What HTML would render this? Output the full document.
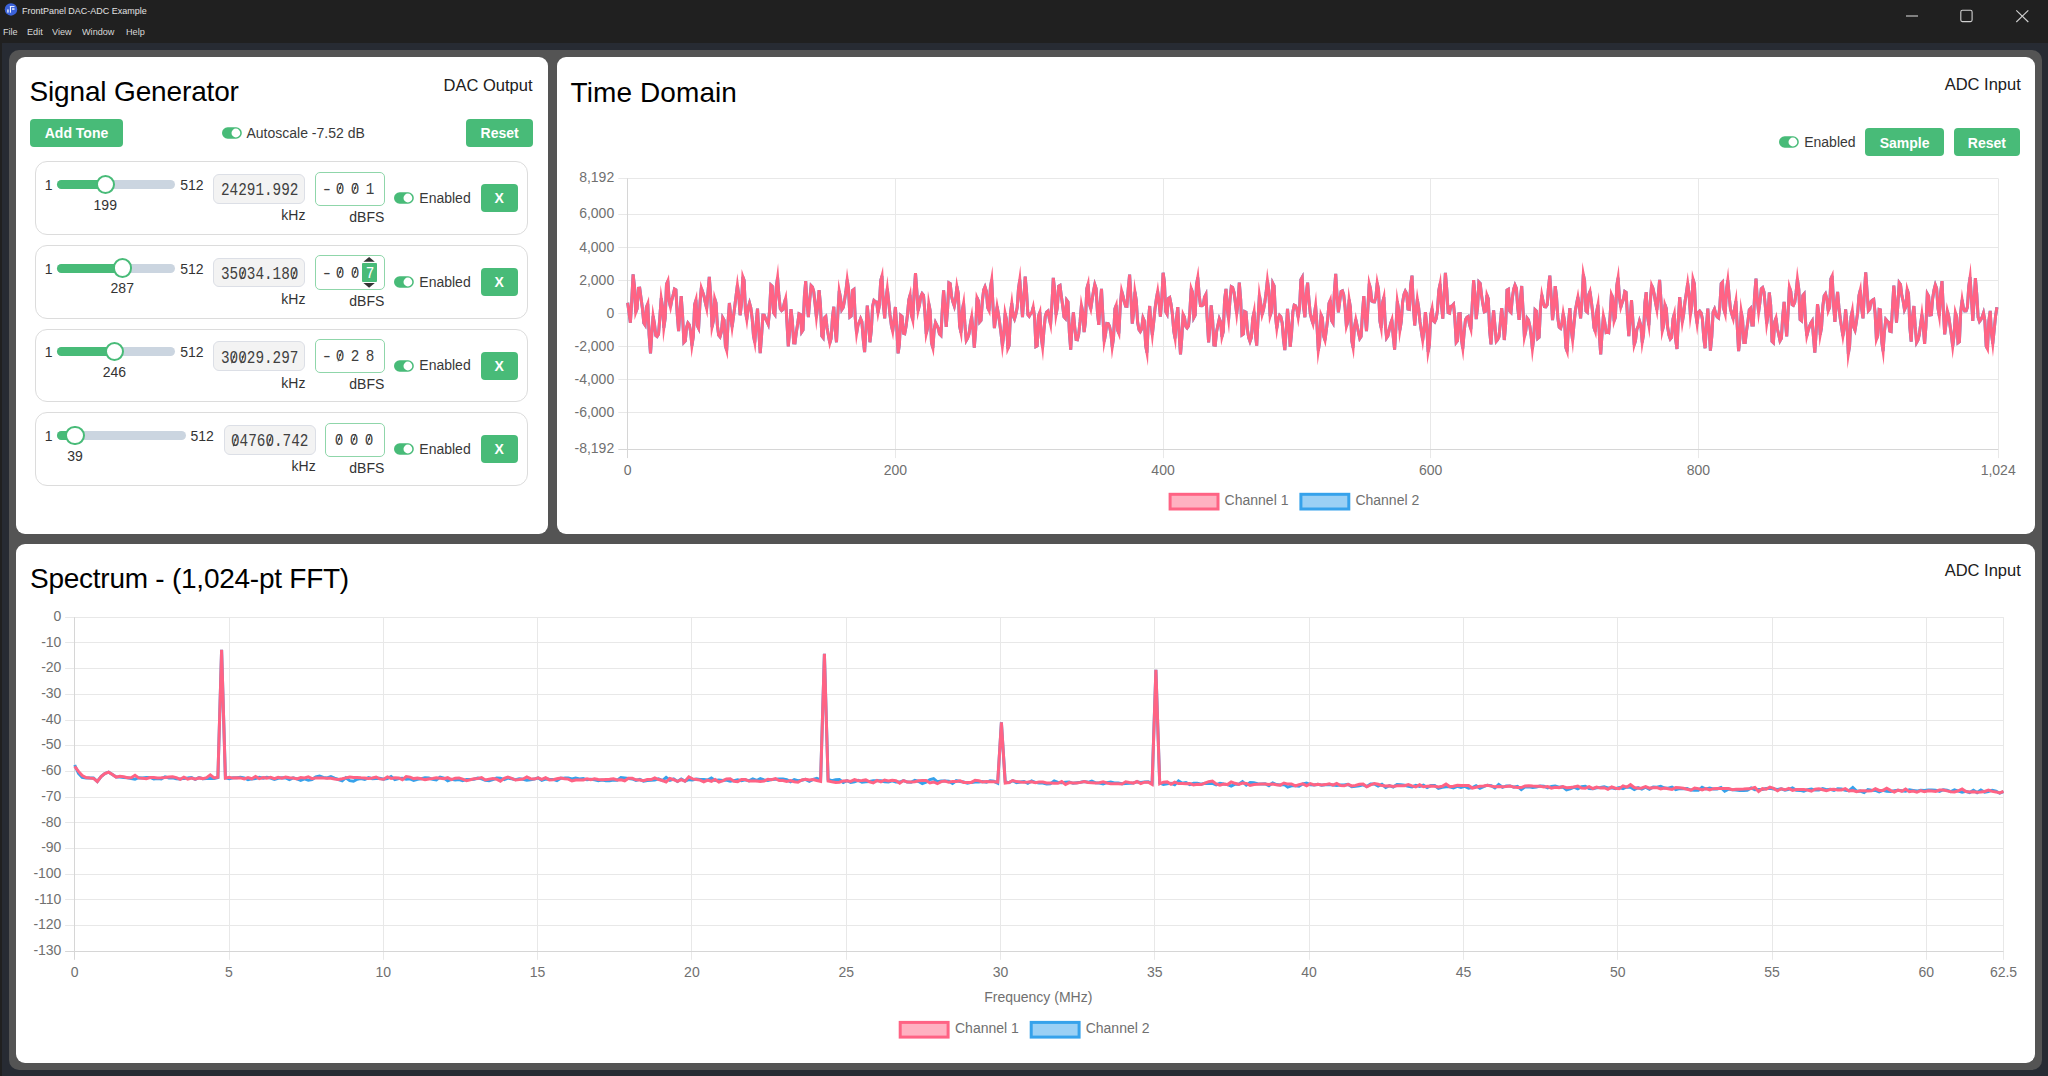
<!DOCTYPE html>
<html><head><meta charset="utf-8"><title>FrontPanel DAC-ADC Example</title>
<style>
html,body{margin:0;padding:0;}
.z{position:relative;display:inline-block}
.z::after{content:'';position:absolute;left:50%;top:50%;width:1.2px;height:10.5px;background:currentColor;transform:translate(-50%,-58%) rotate(24deg)}
body{width:2048px;height:1076px;overflow:hidden;position:relative;background:#272b33;font-family:'Liberation Sans', sans-serif;}
</style></head><body>
<div style="position:absolute;left:0px;top:0px;width:2048px;height:43px;background:#202020"></div>
<div style="position:absolute;left:0px;top:43px;width:2px;height:1033px;background:#202020"></div>
<svg style="position:absolute;left:4px;top:3px" width="14" height="14" viewBox="0 0 14 14"><circle cx="7" cy="6.4" r="6.25" fill="#3b62d9"/><rect x="5.9" y="3.05" width="1.1" height="6.65" fill="#eef1ff"/><rect x="5.9" y="3.05" width="4.6" height="1.0" fill="#eef1ff"/><rect x="8.1" y="5.1" width="2.4" height="1.9" fill="#c9d5f5"/><rect x="3.05" y="6.2" width="1.75" height="3.5" rx="0.6" fill="#c9d5f5"/></svg>
<div style="position:absolute;left:21.50px;top:6.07px;font:400 9.6px/9.6px 'Liberation Sans', sans-serif;color:#e2e2e2;white-space:pre;transform:scaleX(0.935);transform-origin:0 0">FrontPanel DAC-ADC Example</div>
<div style="position:absolute;left:3.30px;top:27.47px;font:400 9.6px/9.6px 'Liberation Sans', sans-serif;color:#d8d8d8;white-space:pre;transform:scaleX(0.95);transform-origin:0 0">File</div>
<div style="position:absolute;left:26.80px;top:27.47px;font:400 9.6px/9.6px 'Liberation Sans', sans-serif;color:#d8d8d8;white-space:pre;transform:scaleX(0.95);transform-origin:0 0">Edit</div>
<div style="position:absolute;left:52.30px;top:27.47px;font:400 9.6px/9.6px 'Liberation Sans', sans-serif;color:#d8d8d8;white-space:pre;transform:scaleX(0.95);transform-origin:0 0">View</div>
<div style="position:absolute;left:82.20px;top:27.47px;font:400 9.6px/9.6px 'Liberation Sans', sans-serif;color:#d8d8d8;white-space:pre;transform:scaleX(0.95);transform-origin:0 0">Window</div>
<div style="position:absolute;left:126.40px;top:27.47px;font:400 9.6px/9.6px 'Liberation Sans', sans-serif;color:#d8d8d8;white-space:pre;transform:scaleX(0.95);transform-origin:0 0">Help</div>
<svg style="position:absolute;left:1900px;top:4px" width="140" height="26" viewBox="0 0 140 26"><line x1="6" y1="12" x2="18" y2="12" stroke="#d0d0d0" stroke-width="1.1"/><rect x="60.8" y="6.3" width="11.3" height="11.3" rx="1.6" fill="none" stroke="#d0d0d0" stroke-width="1.1"/><line x1="116.3" y1="6.3" x2="128.3" y2="18" stroke="#d0d0d0" stroke-width="1.1"/><line x1="128.3" y1="6.3" x2="116.3" y2="18" stroke="#d0d0d0" stroke-width="1.1"/></svg>
<div style="position:absolute;left:9px;top:50px;width:2033px;height:1020px;background:#545454;border-radius:10px"></div>
<div style="position:absolute;left:16px;top:57px;width:531.5px;height:477.3px;background:#fff;border-radius:9px"></div>
<div style="position:absolute;left:556.5px;top:57px;width:1478.2px;height:477.3px;background:#fff;border-radius:9px"></div>
<div style="position:absolute;left:16px;top:544px;width:2018.7px;height:518.6px;background:#fff;border-radius:9px"></div>
<svg style="position:absolute;left:0;top:0" width="2048" height="1076" viewBox="0 0 2048 1076">
<line x1="618.3" y1="178.5" x2="1998.2" y2="178.5" stroke="#e8e8e8"/>
<line x1="618.3" y1="214.5" x2="1998.2" y2="214.5" stroke="#e8e8e8"/>
<line x1="618.3" y1="247.5" x2="1998.2" y2="247.5" stroke="#e8e8e8"/>
<line x1="618.3" y1="280.5" x2="1998.2" y2="280.5" stroke="#e8e8e8"/>
<line x1="618.3" y1="313.5" x2="1998.2" y2="313.5" stroke="#e8e8e8"/>
<line x1="618.3" y1="346.5" x2="1998.2" y2="346.5" stroke="#e8e8e8"/>
<line x1="618.3" y1="379.5" x2="1998.2" y2="379.5" stroke="#e8e8e8"/>
<line x1="618.3" y1="412.5" x2="1998.2" y2="412.5" stroke="#e8e8e8"/>
<line x1="895.5" y1="178.4" x2="895.5" y2="458.1" stroke="#e8e8e8"/>
<line x1="1163.5" y1="178.4" x2="1163.5" y2="458.1" stroke="#e8e8e8"/>
<line x1="1430.5" y1="178.4" x2="1430.5" y2="458.1" stroke="#e8e8e8"/>
<line x1="1698.5" y1="178.4" x2="1698.5" y2="458.1" stroke="#e8e8e8"/>
<line x1="1998.5" y1="178.4" x2="1998.5" y2="458.1" stroke="#e8e8e8"/>
<line x1="618.3" y1="449.5" x2="1998.2" y2="449.5" stroke="#d6d6d6"/>
<line x1="627.5" y1="178.4" x2="627.5" y2="458.1" stroke="#d6d6d6"/>
<polyline points="627.7,302.7 629.0,312.6 630.4,322.7 631.7,301.4 633.1,274.4 634.4,285.8 635.7,312.6 637.1,308.8 638.4,288.3 639.7,288.1 641.1,298.7 642.4,308.2 643.8,322.9 645.1,324.9 646.4,307.4 647.8,303.7 649.1,334.7 650.5,353.3 651.8,333.8 653.1,315.9 654.5,324.1 655.8,335.4 657.1,336.5 658.5,334.3 659.8,318.2 661.2,298.2 662.5,306.6 663.8,327.9 665.2,318.1 666.5,284.4 667.9,280.9 669.2,301.4 670.5,307.1 671.9,299.5 673.2,295.0 674.5,289.1 675.9,289.9 677.2,313.6 678.6,331.2 679.9,312.5 681.2,296.1 682.6,315.9 683.9,342.4 685.3,340.9 686.6,327.2 687.9,323.0 689.3,324.8 690.6,331.6 691.9,345.7 693.3,336.7 694.6,304.8 696.0,299.9 697.3,325.6 698.6,328.2 700.0,302.7 701.3,288.0 702.6,291.9 704.0,296.2 705.3,302.5 706.7,308.5 708.0,292.1 709.3,276.8 710.7,296.5 712.0,327.1 713.4,320.8 714.7,298.6 716.0,303.0 717.4,325.7 718.7,335.1 720.0,336.7 721.4,331.7 722.7,317.7 724.1,320.2 725.4,345.8 726.7,350.4 728.1,321.2 729.4,303.0 730.8,316.5 732.1,327.0 733.4,317.4 734.8,306.1 736.1,295.8 737.4,285.1 738.8,295.6 740.1,315.2 741.5,304.2 742.8,276.7 744.1,280.3 745.5,311.4 746.8,319.5 748.2,307.5 749.5,303.0 750.8,307.9 752.2,318.7 753.5,335.9 754.8,342.5 756.2,323.2 757.5,308.7 758.9,332.6 760.2,353.1 761.5,336.6 762.9,315.1 764.2,315.2 765.6,318.9 766.9,321.3 768.2,324.2 769.6,310.6 770.9,284.9 772.2,286.1 773.6,312.8 774.9,314.6 776.3,286.8 777.6,277.5 778.9,295.5 780.3,308.7 781.6,310.5 783.0,309.4 784.3,303.0 785.6,298.4 787.0,323.1 788.3,346.3 789.6,331.9 791.0,309.1 792.3,320.1 793.7,342.9 795.0,343.0 796.3,332.3 797.7,323.8 799.0,313.7 800.4,314.4 801.7,332.0 803.0,330.0 804.4,296.0 805.7,281.1 807.0,303.1 808.4,317.2 809.7,300.3 811.1,285.6 812.4,287.0 813.7,291.5 815.1,304.2 816.4,317.2 817.7,306.3 819.1,290.1 820.4,304.2 821.8,335.9 823.1,337.6 824.4,317.9 825.8,316.5 827.1,328.0 828.5,336.0 829.8,343.1 831.1,338.5 832.5,317.1 833.8,306.8 835.1,329.2 836.5,342.3 837.8,315.1 839.2,290.9 840.5,297.7 841.8,309.7 843.2,307.5 844.5,300.7 845.9,291.3 847.2,279.6 848.5,288.7 849.9,317.0 851.2,316.0 852.5,290.5 853.9,289.4 855.2,317.1 856.6,333.4 857.9,325.5 859.2,322.5 860.6,318.7 861.9,321.9 863.3,340.1 864.6,352.1 865.9,330.2 867.3,305.7 868.6,320.0 869.9,342.2 871.3,330.5 872.6,306.3 874.0,300.5 875.3,301.6 876.6,301.9 878.0,312.8 879.3,305.9 880.7,280.7 882.0,275.9 883.3,304.5 884.7,318.4 886.0,298.8 887.3,288.6 888.7,301.6 890.0,314.9 891.4,325.4 892.7,331.3 894.0,320.8 895.4,307.0 896.7,326.2 898.1,353.4 899.4,344.4 900.7,315.3 902.1,316.5 903.4,333.1 904.7,333.6 906.1,325.9 907.4,315.4 908.8,299.9 910.1,294.9 911.4,314.8 912.8,320.2 914.1,293.1 915.5,273.1 916.8,290.7 918.1,310.7 919.5,304.8 920.8,296.5 922.1,293.6 923.5,295.4 924.8,311.0 926.2,333.8 927.5,328.2 928.8,303.5 930.2,311.0 931.5,342.8 932.9,348.0 934.2,329.4 935.5,322.6 936.9,325.4 938.2,328.3 939.5,333.9 940.9,335.3 942.2,311.6 943.6,290.4 944.9,306.4 946.2,326.8 947.6,308.6 948.9,282.8 950.2,283.6 951.6,296.5 952.9,301.9 954.3,306.1 955.6,299.3 956.9,286.3 958.3,293.6 959.6,326.1 961.0,332.7 962.3,310.4 963.6,303.3 965.0,326.0 966.3,340.4 967.6,338.2 969.0,333.9 970.3,324.2 971.7,316.6 973.0,330.3 974.3,347.7 975.7,329.5 977.0,297.7 978.4,300.8 979.7,321.9 981.0,320.3 982.4,300.5 983.7,290.0 985.0,286.9 986.4,291.5 987.7,307.7 989.1,310.7 990.4,287.6 991.7,279.8 993.1,308.0 994.4,328.1 995.8,317.3 997.1,306.6 998.4,314.0 999.8,323.9 1001.1,333.8 1002.4,345.8 1003.8,334.5 1005.1,313.2 1006.5,319.6 1007.8,348.7 1009.1,345.7 1010.5,312.9 1011.8,303.2 1013.2,315.8 1014.5,318.9 1015.8,314.4 1017.2,307.5 1018.5,288.6 1019.8,279.6 1021.2,300.4 1022.5,317.2 1023.9,296.8 1025.2,276.7 1026.5,291.1 1027.9,314.6 1029.2,316.2 1030.6,313.6 1031.9,312.3 1033.2,307.1 1034.6,317.3 1035.9,346.6 1037.2,345.9 1038.6,315.8 1039.9,312.1 1041.3,337.8 1042.6,347.3 1043.9,330.6 1045.3,316.3 1046.6,312.1 1048.0,311.0 1049.3,318.5 1050.6,324.4 1052.0,302.5 1053.3,277.8 1054.6,289.6 1056.0,314.7 1057.3,307.7 1058.7,286.1 1060.0,285.4 1061.3,296.0 1062.7,305.8 1064.0,316.9 1065.3,318.4 1066.7,300.1 1068.0,301.9 1069.4,333.0 1070.7,349.7 1072.0,327.0 1073.4,312.5 1074.7,326.9 1076.1,339.5 1077.4,339.7 1078.7,334.0 1080.1,321.4 1081.4,305.3 1082.7,312.0 1084.1,332.1 1085.4,322.1 1086.8,288.8 1088.1,284.0 1089.4,303.7 1090.8,308.9 1092.1,299.9 1093.5,291.3 1094.8,284.7 1096.1,288.6 1097.5,312.8 1098.8,324.8 1100.1,304.1 1101.5,288.9 1102.8,314.5 1104.2,341.4 1105.5,334.6 1106.8,323.4 1108.2,323.6 1109.5,326.2 1110.9,333.2 1112.2,347.0 1113.5,338.1 1114.9,308.7 1116.2,305.2 1117.5,330.0 1118.9,333.5 1120.2,307.1 1121.6,290.8 1122.9,295.6 1124.2,301.1 1125.6,306.1 1126.9,306.3 1128.3,288.3 1129.6,274.6 1130.9,296.9 1132.3,323.6 1133.6,312.6 1134.9,291.8 1136.3,300.6 1137.6,322.1 1139.0,329.6 1140.3,331.5 1141.6,329.0 1143.0,317.9 1144.3,320.9 1145.7,345.7 1147.0,352.7 1148.3,322.2 1149.7,306.0 1151.0,323.7 1152.3,334.8 1153.7,322.0 1155.0,308.9 1156.4,298.8 1157.7,291.4 1159.0,301.7 1160.4,316.7 1161.7,301.1 1163.1,272.8 1164.4,281.9 1165.7,311.5 1167.1,314.1 1168.4,298.6 1169.7,297.6 1171.1,304.6 1172.4,314.3 1173.8,331.4 1175.1,338.4 1176.4,319.0 1177.8,307.1 1179.1,333.3 1180.5,354.5 1181.8,337.9 1183.1,314.4 1184.5,317.4 1185.8,326.3 1187.1,328.0 1188.5,325.9 1189.8,312.6 1191.2,288.6 1192.5,292.3 1193.8,317.8 1195.2,315.2 1196.5,284.7 1197.8,277.4 1199.2,295.4 1200.5,305.6 1201.9,305.7 1203.2,304.9 1204.5,297.2 1205.9,294.4 1207.2,319.0 1208.6,342.5 1209.9,326.6 1211.2,305.3 1212.6,319.5 1213.9,345.0 1215.2,345.2 1216.6,331.5 1217.9,325.2 1219.3,318.7 1220.6,321.8 1221.9,336.9 1223.3,331.6 1224.6,299.6 1226.0,288.9 1227.3,309.4 1228.6,319.3 1230.0,299.7 1231.3,286.7 1232.6,287.5 1234.0,292.2 1235.3,302.0 1236.7,313.9 1238.0,302.7 1239.3,282.7 1240.7,299.8 1242.0,335.0 1243.4,334.0 1244.7,311.6 1246.0,312.2 1247.4,329.6 1248.7,337.6 1250.0,341.4 1251.4,337.4 1252.7,318.7 1254.1,311.7 1255.4,334.1 1256.7,345.7 1258.1,318.1 1259.4,295.2 1260.8,304.0 1262.1,314.7 1263.4,310.1 1264.8,302.5 1266.1,292.8 1267.4,280.2 1268.8,290.4 1270.1,316.1 1271.5,311.5 1272.8,283.3 1274.1,285.9 1275.5,315.9 1276.8,328.3 1278.2,318.9 1279.5,315.4 1280.8,316.8 1282.2,323.0 1283.5,339.9 1284.8,350.1 1286.2,330.2 1287.5,308.8 1288.9,325.0 1290.2,346.9 1291.5,334.1 1292.9,311.6 1294.2,305.2 1295.6,305.9 1296.9,309.3 1298.2,317.3 1299.6,307.2 1300.9,279.6 1302.2,277.3 1303.6,307.5 1304.9,317.2 1306.3,293.5 1307.6,282.7 1308.9,299.4 1310.3,313.7 1311.6,319.2 1313.0,323.7 1314.3,315.1 1315.6,305.6 1317.0,325.6 1318.3,350.7 1319.6,342.2 1321.0,314.7 1322.3,317.8 1323.7,336.3 1325.0,340.4 1326.3,330.1 1327.7,318.8 1329.0,303.4 1330.3,300.2 1331.7,320.7 1333.0,322.9 1334.4,291.7 1335.7,273.8 1337.0,294.9 1338.4,312.4 1339.7,301.5 1341.1,291.5 1342.4,290.9 1343.7,294.9 1345.1,307.7 1346.4,326.4 1347.7,322.0 1349.1,299.6 1350.4,307.5 1351.8,340.8 1353.1,347.6 1354.4,327.4 1355.8,319.6 1357.1,325.9 1358.5,332.5 1359.8,338.5 1361.1,336.6 1362.5,312.6 1363.8,296.0 1365.1,315.7 1366.5,331.1 1367.8,310.2 1369.2,283.6 1370.5,288.7 1371.8,301.1 1373.2,301.8 1374.5,301.9 1375.9,296.9 1377.2,282.9 1378.5,289.5 1379.9,321.1 1381.2,328.0 1382.5,302.8 1383.9,297.2 1385.2,323.1 1386.6,337.9 1387.9,335.9 1389.2,329.9 1390.6,323.6 1391.9,319.7 1393.3,337.2 1394.6,349.7 1395.9,328.7 1397.3,301.3 1398.6,309.3 1399.9,330.2 1401.3,321.4 1402.6,302.4 1404.0,294.3 1405.3,291.2 1406.6,293.5 1408.0,309.0 1409.3,309.3 1410.7,284.6 1412.0,275.6 1413.3,305.2 1414.7,325.5 1416.0,311.5 1417.3,299.3 1418.7,308.3 1420.0,321.9 1421.4,331.6 1422.7,340.3 1424.0,329.9 1425.4,312.2 1426.7,324.6 1428.1,351.9 1429.4,344.9 1430.7,315.0 1432.1,308.6 1433.4,320.8 1434.7,322.0 1436.1,318.8 1437.4,310.9 1438.8,290.4 1440.1,283.9 1441.4,304.3 1442.8,318.7 1444.1,295.1 1445.4,272.9 1446.8,289.5 1448.1,312.5 1449.5,313.1 1450.8,306.4 1452.1,306.0 1453.5,304.4 1454.8,317.4 1456.2,342.4 1457.5,340.7 1458.8,313.8 1460.2,313.6 1461.5,340.2 1462.8,348.6 1464.2,331.6 1465.5,319.7 1466.9,317.2 1468.2,316.4 1469.5,324.4 1470.9,329.2 1472.2,305.6 1473.6,280.1 1474.9,293.8 1476.2,319.2 1477.6,307.1 1478.9,282.0 1480.2,283.4 1481.6,295.8 1482.9,304.3 1484.3,311.8 1485.6,311.2 1486.9,295.1 1488.3,298.9 1489.6,330.3 1491.0,344.4 1492.3,324.3 1493.6,310.4 1495.0,326.4 1496.3,341.3 1497.6,339.8 1499.0,336.7 1500.3,323.1 1501.7,308.1 1503.0,320.4 1504.3,340.0 1505.7,323.3 1507.0,290.1 1508.4,289.3 1509.7,311.2 1511.0,312.5 1512.4,297.4 1513.7,289.1 1515.0,285.2 1516.4,288.3 1517.7,307.7 1519.1,319.8 1520.4,299.2 1521.7,286.0 1523.1,311.2 1524.4,337.0 1525.8,330.8 1527.1,318.2 1528.4,319.9 1529.8,325.9 1531.1,335.5 1532.4,348.9 1533.8,337.5 1535.1,309.8 1536.5,311.1 1537.8,338.5 1539.1,337.4 1540.5,307.4 1541.8,294.9 1543.2,301.9 1544.5,306.7 1545.8,306.9 1547.2,304.8 1548.5,287.2 1549.8,275.7 1551.2,296.2 1552.5,320.1 1553.9,308.4 1555.2,286.2 1556.5,296.5 1557.9,318.5 1559.2,327.2 1560.6,328.3 1561.9,323.4 1563.2,313.4 1564.6,321.2 1565.9,347.6 1567.2,351.4 1568.6,321.2 1569.9,308.2 1571.3,330.4 1572.6,340.2 1573.9,325.1 1575.3,310.9 1576.6,303.7 1577.9,297.0 1579.3,306.3 1580.6,318.4 1582.0,300.8 1583.3,274.4 1584.6,281.0 1586.0,311.1 1587.3,312.2 1588.7,294.8 1590.0,291.4 1591.3,301.1 1592.7,312.7 1594.0,327.8 1595.3,331.6 1596.7,311.8 1598.0,304.9 1599.4,335.5 1600.7,354.3 1602.0,334.3 1603.4,315.9 1604.7,322.0 1606.1,332.3 1607.4,331.8 1608.7,332.4 1610.1,316.3 1611.4,294.4 1612.7,297.6 1614.1,321.1 1615.4,317.2 1616.8,285.4 1618.1,277.7 1619.4,297.3 1620.8,307.2 1622.1,302.9 1623.5,299.1 1624.8,291.5 1626.1,292.4 1627.5,316.8 1628.8,336.1 1630.1,319.0 1631.5,300.2 1632.8,319.4 1634.2,345.0 1635.5,340.7 1636.8,329.5 1638.2,326.3 1639.5,321.1 1640.9,325.8 1642.2,342.4 1643.5,334.6 1644.9,302.7 1646.2,292.1 1647.5,316.6 1648.9,325.2 1650.2,303.1 1651.6,285.2 1652.9,288.3 1654.2,294.2 1655.6,302.9 1656.9,309.8 1658.3,294.9 1659.6,279.8 1660.9,299.2 1662.3,330.9 1663.6,325.6 1664.9,304.6 1666.3,308.5 1667.6,327.1 1669.0,335.2 1670.3,338.9 1671.6,337.3 1673.0,318.9 1674.3,314.0 1675.7,339.8 1677.0,349.0 1678.3,320.6 1679.7,297.2 1681.0,309.5 1682.3,322.2 1683.7,313.9 1685.0,301.7 1686.4,292.8 1687.7,283.3 1689.0,293.4 1690.4,315.1 1691.7,305.9 1693.0,279.2 1694.4,284.1 1695.7,313.0 1697.1,323.6 1698.4,312.5 1699.7,311.1 1701.1,312.9 1702.4,318.9 1703.8,338.4 1705.1,348.2 1706.4,326.6 1707.8,308.6 1709.1,328.9 1710.4,350.6 1711.8,336.4 1713.1,312.2 1714.5,309.1 1715.8,313.9 1717.1,316.7 1718.5,317.8 1719.8,306.6 1721.2,283.7 1722.5,282.2 1723.8,308.9 1725.2,313.9 1726.5,289.4 1727.8,280.3 1729.2,296.7 1730.5,309.2 1731.9,314.4 1733.2,318.7 1734.5,309.1 1735.9,301.2 1737.2,325.4 1738.6,351.1 1739.9,338.1 1741.2,311.4 1742.6,319.8 1743.9,342.5 1745.2,342.5 1746.6,330.3 1747.9,321.6 1749.3,310.0 1750.6,308.5 1751.9,324.9 1753.3,324.9 1754.6,295.3 1756.0,278.5 1757.3,299.7 1758.6,312.2 1760.0,301.6 1761.3,288.8 1762.6,287.7 1764.0,292.0 1765.3,305.8 1766.7,323.7 1768.0,315.2 1769.3,292.5 1770.7,305.3 1772.0,341.3 1773.4,342.7 1774.7,321.8 1776.0,318.0 1777.4,329.0 1778.7,334.5 1780.0,340.7 1781.4,338.2 1782.7,316.7 1784.1,301.8 1785.4,321.8 1786.7,336.4 1788.1,312.4 1789.4,287.1 1790.8,291.6 1792.1,304.5 1793.4,305.3 1794.8,302.2 1796.1,292.5 1797.4,279.0 1798.8,289.4 1800.1,319.6 1801.5,320.7 1802.8,295.6 1804.1,294.0 1805.5,321.2 1806.8,335.9 1808.2,330.3 1809.5,326.6 1810.8,323.1 1812.2,320.9 1813.5,337.4 1814.8,352.6 1816.2,331.3 1817.5,304.1 1818.9,314.1 1820.2,334.8 1821.5,327.7 1822.9,305.7 1824.2,295.9 1825.5,293.9 1826.9,299.2 1828.2,310.8 1829.6,307.1 1830.9,278.8 1832.2,275.9 1833.6,305.3 1834.9,321.8 1836.3,303.1 1837.6,291.9 1838.9,307.2 1840.3,318.7 1841.6,327.4 1842.9,336.1 1844.3,327.1 1845.6,309.4 1847.0,324.6 1848.3,354.0 1849.6,345.8 1851.0,317.3 1852.3,310.8 1853.7,327.2 1855.0,330.2 1856.3,322.3 1857.7,312.4 1859.0,295.6 1860.3,290.2 1861.7,309.0 1863.0,318.4 1864.4,292.7 1865.7,272.3 1867.0,290.5 1868.4,310.6 1869.7,309.0 1871.1,301.5 1872.4,300.1 1873.7,299.4 1875.1,312.8 1876.4,339.4 1877.7,335.7 1879.1,309.4 1880.4,309.8 1881.8,342.4 1883.1,351.2 1884.4,331.8 1885.8,319.4 1887.1,321.0 1888.5,322.3 1889.8,331.1 1891.1,331.5 1892.5,307.5 1893.8,285.7 1895.1,301.7 1896.5,322.6 1897.8,306.1 1899.2,282.7 1900.5,284.5 1901.8,295.4 1903.2,301.2 1904.5,309.7 1905.9,306.6 1907.2,289.5 1908.5,293.9 1909.9,327.9 1911.2,341.7 1912.5,316.3 1913.9,306.0 1915.2,326.4 1916.6,342.5 1917.9,340.2 1919.2,335.0 1920.6,324.6 1921.9,314.5 1923.3,326.8 1924.6,343.8 1925.9,326.6 1927.3,293.9 1928.6,296.2 1929.9,315.0 1931.3,314.7 1932.6,298.9 1934.0,290.1 1935.3,285.0 1936.6,288.4 1938.0,308.4 1939.3,316.0 1940.6,293.2 1942.0,281.1 1943.3,309.3 1944.7,334.3 1946.0,323.9 1947.3,310.7 1948.7,316.3 1950.0,325.4 1951.4,335.4 1952.7,346.5 1954.0,336.2 1955.4,312.6 1956.7,316.9 1958.0,342.9 1959.4,341.8 1960.7,312.1 1962.1,299.8 1963.4,308.0 1964.7,311.0 1966.1,310.9 1967.4,307.1 1968.8,286.1 1970.1,277.1 1971.4,298.4 1972.8,320.8 1974.1,301.3 1975.4,278.2 1976.8,294.7 1978.1,317.2 1979.5,321.5 1980.8,319.7 1982.1,317.3 1983.5,313.1 1984.8,320.1 1986.2,346.1 1987.5,348.8 1988.8,321.1 1990.2,310.9 1991.5,333.5 1992.8,343.7 1994.2,329.6 1995.5,316.5 1996.9,307.2" fill="none" stroke="#36a2eb" stroke-width="3" stroke-linejoin="miter"/>
<polyline points="627.7,302.7 629.0,312.6 630.4,322.7 631.7,301.4 633.1,274.4 634.4,285.8 635.7,312.6 637.1,308.8 638.4,288.3 639.7,288.1 641.1,298.7 642.4,308.2 643.8,322.9 645.1,324.9 646.4,307.4 647.8,303.7 649.1,334.7 650.5,353.3 651.8,333.8 653.1,315.9 654.5,324.1 655.8,335.4 657.1,336.5 658.5,334.3 659.8,318.2 661.2,298.2 662.5,306.6 663.8,327.9 665.2,318.1 666.5,284.4 667.9,280.9 669.2,301.4 670.5,307.1 671.9,299.5 673.2,295.0 674.5,289.1 675.9,289.9 677.2,313.6 678.6,331.2 679.9,312.5 681.2,296.1 682.6,315.9 683.9,342.4 685.3,340.9 686.6,327.2 687.9,323.0 689.3,324.8 690.6,331.6 691.9,345.7 693.3,336.7 694.6,304.8 696.0,299.9 697.3,325.6 698.6,328.2 700.0,302.7 701.3,288.0 702.6,291.9 704.0,296.2 705.3,302.5 706.7,308.5 708.0,292.1 709.3,276.8 710.7,296.5 712.0,327.1 713.4,320.8 714.7,298.6 716.0,303.0 717.4,325.7 718.7,335.1 720.0,336.7 721.4,331.7 722.7,317.7 724.1,320.2 725.4,345.8 726.7,350.4 728.1,321.2 729.4,303.0 730.8,316.5 732.1,327.0 733.4,317.4 734.8,306.1 736.1,295.8 737.4,285.1 738.8,295.6 740.1,315.2 741.5,304.2 742.8,276.7 744.1,280.3 745.5,311.4 746.8,319.5 748.2,307.5 749.5,303.0 750.8,307.9 752.2,318.7 753.5,335.9 754.8,342.5 756.2,323.2 757.5,308.7 758.9,332.6 760.2,353.1 761.5,336.6 762.9,315.1 764.2,315.2 765.6,318.9 766.9,321.3 768.2,324.2 769.6,310.6 770.9,284.9 772.2,286.1 773.6,312.8 774.9,314.6 776.3,286.8 777.6,277.5 778.9,295.5 780.3,308.7 781.6,310.5 783.0,309.4 784.3,303.0 785.6,298.4 787.0,323.1 788.3,346.3 789.6,331.9 791.0,309.1 792.3,320.1 793.7,342.9 795.0,343.0 796.3,332.3 797.7,323.8 799.0,313.7 800.4,314.4 801.7,332.0 803.0,330.0 804.4,296.0 805.7,281.1 807.0,303.1 808.4,317.2 809.7,300.3 811.1,285.6 812.4,287.0 813.7,291.5 815.1,304.2 816.4,317.2 817.7,306.3 819.1,290.1 820.4,304.2 821.8,335.9 823.1,337.6 824.4,317.9 825.8,316.5 827.1,328.0 828.5,336.0 829.8,343.1 831.1,338.5 832.5,317.1 833.8,306.8 835.1,329.2 836.5,342.3 837.8,315.1 839.2,290.9 840.5,297.7 841.8,309.7 843.2,307.5 844.5,300.7 845.9,291.3 847.2,279.6 848.5,288.7 849.9,317.0 851.2,316.0 852.5,290.5 853.9,289.4 855.2,317.1 856.6,333.4 857.9,325.5 859.2,322.5 860.6,318.7 861.9,321.9 863.3,340.1 864.6,352.1 865.9,330.2 867.3,305.7 868.6,320.0 869.9,342.2 871.3,330.5 872.6,306.3 874.0,300.5 875.3,301.6 876.6,301.9 878.0,312.8 879.3,305.9 880.7,280.7 882.0,275.9 883.3,304.5 884.7,318.4 886.0,298.8 887.3,288.6 888.7,301.6 890.0,314.9 891.4,325.4 892.7,331.3 894.0,320.8 895.4,307.0 896.7,326.2 898.1,353.4 899.4,344.4 900.7,315.3 902.1,316.5 903.4,333.1 904.7,333.6 906.1,325.9 907.4,315.4 908.8,299.9 910.1,294.9 911.4,314.8 912.8,320.2 914.1,293.1 915.5,273.1 916.8,290.7 918.1,310.7 919.5,304.8 920.8,296.5 922.1,293.6 923.5,295.4 924.8,311.0 926.2,333.8 927.5,328.2 928.8,303.5 930.2,311.0 931.5,342.8 932.9,348.0 934.2,329.4 935.5,322.6 936.9,325.4 938.2,328.3 939.5,333.9 940.9,335.3 942.2,311.6 943.6,290.4 944.9,306.4 946.2,326.8 947.6,308.6 948.9,282.8 950.2,283.6 951.6,296.5 952.9,301.9 954.3,306.1 955.6,299.3 956.9,286.3 958.3,293.6 959.6,326.1 961.0,332.7 962.3,310.4 963.6,303.3 965.0,326.0 966.3,340.4 967.6,338.2 969.0,333.9 970.3,324.2 971.7,316.6 973.0,330.3 974.3,347.7 975.7,329.5 977.0,297.7 978.4,300.8 979.7,321.9 981.0,320.3 982.4,300.5 983.7,290.0 985.0,286.9 986.4,291.5 987.7,307.7 989.1,310.7 990.4,287.6 991.7,279.8 993.1,308.0 994.4,328.1 995.8,317.3 997.1,306.6 998.4,314.0 999.8,323.9 1001.1,333.8 1002.4,345.8 1003.8,334.5 1005.1,313.2 1006.5,319.6 1007.8,348.7 1009.1,345.7 1010.5,312.9 1011.8,303.2 1013.2,315.8 1014.5,318.9 1015.8,314.4 1017.2,307.5 1018.5,288.6 1019.8,279.6 1021.2,300.4 1022.5,317.2 1023.9,296.8 1025.2,276.7 1026.5,291.1 1027.9,314.6 1029.2,316.2 1030.6,313.6 1031.9,312.3 1033.2,307.1 1034.6,317.3 1035.9,346.6 1037.2,345.9 1038.6,315.8 1039.9,312.1 1041.3,337.8 1042.6,347.3 1043.9,330.6 1045.3,316.3 1046.6,312.1 1048.0,311.0 1049.3,318.5 1050.6,324.4 1052.0,302.5 1053.3,277.8 1054.6,289.6 1056.0,314.7 1057.3,307.7 1058.7,286.1 1060.0,285.4 1061.3,296.0 1062.7,305.8 1064.0,316.9 1065.3,318.4 1066.7,300.1 1068.0,301.9 1069.4,333.0 1070.7,349.7 1072.0,327.0 1073.4,312.5 1074.7,326.9 1076.1,339.5 1077.4,339.7 1078.7,334.0 1080.1,321.4 1081.4,305.3 1082.7,312.0 1084.1,332.1 1085.4,322.1 1086.8,288.8 1088.1,284.0 1089.4,303.7 1090.8,308.9 1092.1,299.9 1093.5,291.3 1094.8,284.7 1096.1,288.6 1097.5,312.8 1098.8,324.8 1100.1,304.1 1101.5,288.9 1102.8,314.5 1104.2,341.4 1105.5,334.6 1106.8,323.4 1108.2,323.6 1109.5,326.2 1110.9,333.2 1112.2,347.0 1113.5,338.1 1114.9,308.7 1116.2,305.2 1117.5,330.0 1118.9,333.5 1120.2,307.1 1121.6,290.8 1122.9,295.6 1124.2,301.1 1125.6,306.1 1126.9,306.3 1128.3,288.3 1129.6,274.6 1130.9,296.9 1132.3,323.6 1133.6,312.6 1134.9,291.8 1136.3,300.6 1137.6,322.1 1139.0,329.6 1140.3,331.5 1141.6,329.0 1143.0,317.9 1144.3,320.9 1145.7,345.7 1147.0,352.7 1148.3,322.2 1149.7,306.0 1151.0,323.7 1152.3,334.8 1153.7,322.0 1155.0,308.9 1156.4,298.8 1157.7,291.4 1159.0,301.7 1160.4,316.7 1161.7,301.1 1163.1,272.8 1164.4,281.9 1165.7,311.5 1167.1,314.1 1168.4,298.6 1169.7,297.6 1171.1,304.6 1172.4,314.3 1173.8,331.4 1175.1,338.4 1176.4,319.0 1177.8,307.1 1179.1,333.3 1180.5,354.5 1181.8,337.9 1183.1,314.4 1184.5,317.4 1185.8,326.3 1187.1,328.0 1188.5,325.9 1189.8,312.6 1191.2,288.6 1192.5,292.3 1193.8,317.8 1195.2,315.2 1196.5,284.7 1197.8,277.4 1199.2,295.4 1200.5,305.6 1201.9,305.7 1203.2,304.9 1204.5,297.2 1205.9,294.4 1207.2,319.0 1208.6,342.5 1209.9,326.6 1211.2,305.3 1212.6,319.5 1213.9,345.0 1215.2,345.2 1216.6,331.5 1217.9,325.2 1219.3,318.7 1220.6,321.8 1221.9,336.9 1223.3,331.6 1224.6,299.6 1226.0,288.9 1227.3,309.4 1228.6,319.3 1230.0,299.7 1231.3,286.7 1232.6,287.5 1234.0,292.2 1235.3,302.0 1236.7,313.9 1238.0,302.7 1239.3,282.7 1240.7,299.8 1242.0,335.0 1243.4,334.0 1244.7,311.6 1246.0,312.2 1247.4,329.6 1248.7,337.6 1250.0,341.4 1251.4,337.4 1252.7,318.7 1254.1,311.7 1255.4,334.1 1256.7,345.7 1258.1,318.1 1259.4,295.2 1260.8,304.0 1262.1,314.7 1263.4,310.1 1264.8,302.5 1266.1,292.8 1267.4,280.2 1268.8,290.4 1270.1,316.1 1271.5,311.5 1272.8,283.3 1274.1,285.9 1275.5,315.9 1276.8,328.3 1278.2,318.9 1279.5,315.4 1280.8,316.8 1282.2,323.0 1283.5,339.9 1284.8,350.1 1286.2,330.2 1287.5,308.8 1288.9,325.0 1290.2,346.9 1291.5,334.1 1292.9,311.6 1294.2,305.2 1295.6,305.9 1296.9,309.3 1298.2,317.3 1299.6,307.2 1300.9,279.6 1302.2,277.3 1303.6,307.5 1304.9,317.2 1306.3,293.5 1307.6,282.7 1308.9,299.4 1310.3,313.7 1311.6,319.2 1313.0,323.7 1314.3,315.1 1315.6,305.6 1317.0,325.6 1318.3,350.7 1319.6,342.2 1321.0,314.7 1322.3,317.8 1323.7,336.3 1325.0,340.4 1326.3,330.1 1327.7,318.8 1329.0,303.4 1330.3,300.2 1331.7,320.7 1333.0,322.9 1334.4,291.7 1335.7,273.8 1337.0,294.9 1338.4,312.4 1339.7,301.5 1341.1,291.5 1342.4,290.9 1343.7,294.9 1345.1,307.7 1346.4,326.4 1347.7,322.0 1349.1,299.6 1350.4,307.5 1351.8,340.8 1353.1,347.6 1354.4,327.4 1355.8,319.6 1357.1,325.9 1358.5,332.5 1359.8,338.5 1361.1,336.6 1362.5,312.6 1363.8,296.0 1365.1,315.7 1366.5,331.1 1367.8,310.2 1369.2,283.6 1370.5,288.7 1371.8,301.1 1373.2,301.8 1374.5,301.9 1375.9,296.9 1377.2,282.9 1378.5,289.5 1379.9,321.1 1381.2,328.0 1382.5,302.8 1383.9,297.2 1385.2,323.1 1386.6,337.9 1387.9,335.9 1389.2,329.9 1390.6,323.6 1391.9,319.7 1393.3,337.2 1394.6,349.7 1395.9,328.7 1397.3,301.3 1398.6,309.3 1399.9,330.2 1401.3,321.4 1402.6,302.4 1404.0,294.3 1405.3,291.2 1406.6,293.5 1408.0,309.0 1409.3,309.3 1410.7,284.6 1412.0,275.6 1413.3,305.2 1414.7,325.5 1416.0,311.5 1417.3,299.3 1418.7,308.3 1420.0,321.9 1421.4,331.6 1422.7,340.3 1424.0,329.9 1425.4,312.2 1426.7,324.6 1428.1,351.9 1429.4,344.9 1430.7,315.0 1432.1,308.6 1433.4,320.8 1434.7,322.0 1436.1,318.8 1437.4,310.9 1438.8,290.4 1440.1,283.9 1441.4,304.3 1442.8,318.7 1444.1,295.1 1445.4,272.9 1446.8,289.5 1448.1,312.5 1449.5,313.1 1450.8,306.4 1452.1,306.0 1453.5,304.4 1454.8,317.4 1456.2,342.4 1457.5,340.7 1458.8,313.8 1460.2,313.6 1461.5,340.2 1462.8,348.6 1464.2,331.6 1465.5,319.7 1466.9,317.2 1468.2,316.4 1469.5,324.4 1470.9,329.2 1472.2,305.6 1473.6,280.1 1474.9,293.8 1476.2,319.2 1477.6,307.1 1478.9,282.0 1480.2,283.4 1481.6,295.8 1482.9,304.3 1484.3,311.8 1485.6,311.2 1486.9,295.1 1488.3,298.9 1489.6,330.3 1491.0,344.4 1492.3,324.3 1493.6,310.4 1495.0,326.4 1496.3,341.3 1497.6,339.8 1499.0,336.7 1500.3,323.1 1501.7,308.1 1503.0,320.4 1504.3,340.0 1505.7,323.3 1507.0,290.1 1508.4,289.3 1509.7,311.2 1511.0,312.5 1512.4,297.4 1513.7,289.1 1515.0,285.2 1516.4,288.3 1517.7,307.7 1519.1,319.8 1520.4,299.2 1521.7,286.0 1523.1,311.2 1524.4,337.0 1525.8,330.8 1527.1,318.2 1528.4,319.9 1529.8,325.9 1531.1,335.5 1532.4,348.9 1533.8,337.5 1535.1,309.8 1536.5,311.1 1537.8,338.5 1539.1,337.4 1540.5,307.4 1541.8,294.9 1543.2,301.9 1544.5,306.7 1545.8,306.9 1547.2,304.8 1548.5,287.2 1549.8,275.7 1551.2,296.2 1552.5,320.1 1553.9,308.4 1555.2,286.2 1556.5,296.5 1557.9,318.5 1559.2,327.2 1560.6,328.3 1561.9,323.4 1563.2,313.4 1564.6,321.2 1565.9,347.6 1567.2,351.4 1568.6,321.2 1569.9,308.2 1571.3,330.4 1572.6,340.2 1573.9,325.1 1575.3,310.9 1576.6,303.7 1577.9,297.0 1579.3,306.3 1580.6,318.4 1582.0,300.8 1583.3,274.4 1584.6,281.0 1586.0,311.1 1587.3,312.2 1588.7,294.8 1590.0,291.4 1591.3,301.1 1592.7,312.7 1594.0,327.8 1595.3,331.6 1596.7,311.8 1598.0,304.9 1599.4,335.5 1600.7,354.3 1602.0,334.3 1603.4,315.9 1604.7,322.0 1606.1,332.3 1607.4,331.8 1608.7,332.4 1610.1,316.3 1611.4,294.4 1612.7,297.6 1614.1,321.1 1615.4,317.2 1616.8,285.4 1618.1,277.7 1619.4,297.3 1620.8,307.2 1622.1,302.9 1623.5,299.1 1624.8,291.5 1626.1,292.4 1627.5,316.8 1628.8,336.1 1630.1,319.0 1631.5,300.2 1632.8,319.4 1634.2,345.0 1635.5,340.7 1636.8,329.5 1638.2,326.3 1639.5,321.1 1640.9,325.8 1642.2,342.4 1643.5,334.6 1644.9,302.7 1646.2,292.1 1647.5,316.6 1648.9,325.2 1650.2,303.1 1651.6,285.2 1652.9,288.3 1654.2,294.2 1655.6,302.9 1656.9,309.8 1658.3,294.9 1659.6,279.8 1660.9,299.2 1662.3,330.9 1663.6,325.6 1664.9,304.6 1666.3,308.5 1667.6,327.1 1669.0,335.2 1670.3,338.9 1671.6,337.3 1673.0,318.9 1674.3,314.0 1675.7,339.8 1677.0,349.0 1678.3,320.6 1679.7,297.2 1681.0,309.5 1682.3,322.2 1683.7,313.9 1685.0,301.7 1686.4,292.8 1687.7,283.3 1689.0,293.4 1690.4,315.1 1691.7,305.9 1693.0,279.2 1694.4,284.1 1695.7,313.0 1697.1,323.6 1698.4,312.5 1699.7,311.1 1701.1,312.9 1702.4,318.9 1703.8,338.4 1705.1,348.2 1706.4,326.6 1707.8,308.6 1709.1,328.9 1710.4,350.6 1711.8,336.4 1713.1,312.2 1714.5,309.1 1715.8,313.9 1717.1,316.7 1718.5,317.8 1719.8,306.6 1721.2,283.7 1722.5,282.2 1723.8,308.9 1725.2,313.9 1726.5,289.4 1727.8,280.3 1729.2,296.7 1730.5,309.2 1731.9,314.4 1733.2,318.7 1734.5,309.1 1735.9,301.2 1737.2,325.4 1738.6,351.1 1739.9,338.1 1741.2,311.4 1742.6,319.8 1743.9,342.5 1745.2,342.5 1746.6,330.3 1747.9,321.6 1749.3,310.0 1750.6,308.5 1751.9,324.9 1753.3,324.9 1754.6,295.3 1756.0,278.5 1757.3,299.7 1758.6,312.2 1760.0,301.6 1761.3,288.8 1762.6,287.7 1764.0,292.0 1765.3,305.8 1766.7,323.7 1768.0,315.2 1769.3,292.5 1770.7,305.3 1772.0,341.3 1773.4,342.7 1774.7,321.8 1776.0,318.0 1777.4,329.0 1778.7,334.5 1780.0,340.7 1781.4,338.2 1782.7,316.7 1784.1,301.8 1785.4,321.8 1786.7,336.4 1788.1,312.4 1789.4,287.1 1790.8,291.6 1792.1,304.5 1793.4,305.3 1794.8,302.2 1796.1,292.5 1797.4,279.0 1798.8,289.4 1800.1,319.6 1801.5,320.7 1802.8,295.6 1804.1,294.0 1805.5,321.2 1806.8,335.9 1808.2,330.3 1809.5,326.6 1810.8,323.1 1812.2,320.9 1813.5,337.4 1814.8,352.6 1816.2,331.3 1817.5,304.1 1818.9,314.1 1820.2,334.8 1821.5,327.7 1822.9,305.7 1824.2,295.9 1825.5,293.9 1826.9,299.2 1828.2,310.8 1829.6,307.1 1830.9,278.8 1832.2,275.9 1833.6,305.3 1834.9,321.8 1836.3,303.1 1837.6,291.9 1838.9,307.2 1840.3,318.7 1841.6,327.4 1842.9,336.1 1844.3,327.1 1845.6,309.4 1847.0,324.6 1848.3,354.0 1849.6,345.8 1851.0,317.3 1852.3,310.8 1853.7,327.2 1855.0,330.2 1856.3,322.3 1857.7,312.4 1859.0,295.6 1860.3,290.2 1861.7,309.0 1863.0,318.4 1864.4,292.7 1865.7,272.3 1867.0,290.5 1868.4,310.6 1869.7,309.0 1871.1,301.5 1872.4,300.1 1873.7,299.4 1875.1,312.8 1876.4,339.4 1877.7,335.7 1879.1,309.4 1880.4,309.8 1881.8,342.4 1883.1,351.2 1884.4,331.8 1885.8,319.4 1887.1,321.0 1888.5,322.3 1889.8,331.1 1891.1,331.5 1892.5,307.5 1893.8,285.7 1895.1,301.7 1896.5,322.6 1897.8,306.1 1899.2,282.7 1900.5,284.5 1901.8,295.4 1903.2,301.2 1904.5,309.7 1905.9,306.6 1907.2,289.5 1908.5,293.9 1909.9,327.9 1911.2,341.7 1912.5,316.3 1913.9,306.0 1915.2,326.4 1916.6,342.5 1917.9,340.2 1919.2,335.0 1920.6,324.6 1921.9,314.5 1923.3,326.8 1924.6,343.8 1925.9,326.6 1927.3,293.9 1928.6,296.2 1929.9,315.0 1931.3,314.7 1932.6,298.9 1934.0,290.1 1935.3,285.0 1936.6,288.4 1938.0,308.4 1939.3,316.0 1940.6,293.2 1942.0,281.1 1943.3,309.3 1944.7,334.3 1946.0,323.9 1947.3,310.7 1948.7,316.3 1950.0,325.4 1951.4,335.4 1952.7,346.5 1954.0,336.2 1955.4,312.6 1956.7,316.9 1958.0,342.9 1959.4,341.8 1960.7,312.1 1962.1,299.8 1963.4,308.0 1964.7,311.0 1966.1,310.9 1967.4,307.1 1968.8,286.1 1970.1,277.1 1971.4,298.4 1972.8,320.8 1974.1,301.3 1975.4,278.2 1976.8,294.7 1978.1,317.2 1979.5,321.5 1980.8,319.7 1982.1,317.3 1983.5,313.1 1984.8,320.1 1986.2,346.1 1987.5,348.8 1988.8,321.1 1990.2,310.9 1991.5,333.5 1992.8,343.7 1994.2,329.6 1995.5,316.5 1996.9,307.2" fill="none" stroke="#ff6384" stroke-width="3" stroke-linejoin="miter" stroke-miterlimit="10"/>
<rect x="1170.1" y="494.3" width="47.9" height="14.7" fill="rgba(255,99,132,0.5)" stroke="#ff6384" stroke-width="3"/>
<rect x="1300.9" y="494.3" width="47.9" height="14.7" fill="rgba(54,162,235,0.5)" stroke="#36a2eb" stroke-width="3"/>
<line x1="65.1" y1="617.5" x2="2003.5" y2="617.5" stroke="#e8e8e8"/>
<line x1="65.1" y1="642.5" x2="2003.5" y2="642.5" stroke="#e8e8e8"/>
<line x1="65.1" y1="668.5" x2="2003.5" y2="668.5" stroke="#e8e8e8"/>
<line x1="65.1" y1="694.5" x2="2003.5" y2="694.5" stroke="#e8e8e8"/>
<line x1="65.1" y1="720.5" x2="2003.5" y2="720.5" stroke="#e8e8e8"/>
<line x1="65.1" y1="745.5" x2="2003.5" y2="745.5" stroke="#e8e8e8"/>
<line x1="65.1" y1="771.5" x2="2003.5" y2="771.5" stroke="#e8e8e8"/>
<line x1="65.1" y1="797.5" x2="2003.5" y2="797.5" stroke="#e8e8e8"/>
<line x1="65.1" y1="822.5" x2="2003.5" y2="822.5" stroke="#e8e8e8"/>
<line x1="65.1" y1="848.5" x2="2003.5" y2="848.5" stroke="#e8e8e8"/>
<line x1="65.1" y1="874.5" x2="2003.5" y2="874.5" stroke="#e8e8e8"/>
<line x1="65.1" y1="899.5" x2="2003.5" y2="899.5" stroke="#e8e8e8"/>
<line x1="65.1" y1="925.5" x2="2003.5" y2="925.5" stroke="#e8e8e8"/>
<line x1="229.5" y1="617.2" x2="229.5" y2="959.8" stroke="#e8e8e8"/>
<line x1="383.5" y1="617.2" x2="383.5" y2="959.8" stroke="#e8e8e8"/>
<line x1="537.5" y1="617.2" x2="537.5" y2="959.8" stroke="#e8e8e8"/>
<line x1="691.5" y1="617.2" x2="691.5" y2="959.8" stroke="#e8e8e8"/>
<line x1="846.5" y1="617.2" x2="846.5" y2="959.8" stroke="#e8e8e8"/>
<line x1="1000.5" y1="617.2" x2="1000.5" y2="959.8" stroke="#e8e8e8"/>
<line x1="1154.5" y1="617.2" x2="1154.5" y2="959.8" stroke="#e8e8e8"/>
<line x1="1309.5" y1="617.2" x2="1309.5" y2="959.8" stroke="#e8e8e8"/>
<line x1="1463.5" y1="617.2" x2="1463.5" y2="959.8" stroke="#e8e8e8"/>
<line x1="1617.5" y1="617.2" x2="1617.5" y2="959.8" stroke="#e8e8e8"/>
<line x1="1772.5" y1="617.2" x2="1772.5" y2="959.8" stroke="#e8e8e8"/>
<line x1="1926.5" y1="617.2" x2="1926.5" y2="959.8" stroke="#e8e8e8"/>
<line x1="2003.5" y1="617.2" x2="2003.5" y2="959.8" stroke="#e8e8e8"/>
<line x1="65.1" y1="951.5" x2="2003.5" y2="951.5" stroke="#d6d6d6"/>
<line x1="74.5" y1="617.2" x2="74.5" y2="959.8" stroke="#d6d6d6"/>
<rect x="900.2" y="1022.4" width="47.9" height="14.7" fill="rgba(255,99,132,0.5)" stroke="#ff6384" stroke-width="3"/>
<rect x="1031.2" y="1022.4" width="47.9" height="14.7" fill="rgba(54,162,235,0.5)" stroke="#36a2eb" stroke-width="3"/>
<polyline points="74.7,765.0 78.5,773.5 82.2,777.4 86.0,778.1 89.8,777.9 93.5,777.9 97.3,781.5 101.1,776.6 104.8,773.5 108.6,772.2 112.4,774.5 116.1,777.1 119.9,777.1 123.7,777.5 127.4,777.8 131.2,778.6 135.0,779.2 138.7,777.7 142.5,777.9 146.3,777.4 150.0,777.4 153.8,779.0 157.6,778.4 161.3,778.9 165.1,776.8 168.9,777.9 172.6,777.7 176.4,778.7 180.2,779.1 183.9,778.4 187.7,778.0 191.5,777.5 195.2,779.4 199.0,777.6 202.8,778.8 206.6,778.5 210.3,778.3 214.1,778.4 217.9,777.6 221.6,649.8 225.4,777.7 229.2,778.6 232.9,777.7 236.7,777.7 240.5,777.3 244.2,777.9 248.0,779.7 251.8,778.9 255.5,778.6 259.3,777.3 263.1,778.3 266.8,777.3 270.6,778.0 274.4,779.4 278.1,778.2 281.9,777.7 285.7,777.9 289.4,779.7 293.2,777.9 297.0,778.9 300.7,780.4 304.5,778.9 308.3,780.3 312.0,779.6 315.8,777.0 319.6,776.1 323.3,777.4 327.1,778.0 330.9,776.7 334.6,778.2 338.4,779.5 342.2,780.9 345.9,777.7 349.7,780.7 353.5,781.3 357.2,779.2 361.0,778.5 364.8,779.5 368.5,777.6 372.3,778.7 376.1,778.5 379.8,778.2 383.6,779.3 387.4,778.5 391.1,776.5 394.9,779.6 398.7,778.6 402.4,778.3 406.2,779.3 410.0,778.8 413.7,780.5 417.5,779.3 421.3,778.8 425.0,777.8 428.8,778.0 432.6,779.4 436.3,780.0 440.1,777.1 443.9,778.1 447.7,780.8 451.4,779.3 455.2,779.9 459.0,779.6 462.7,780.7 466.5,779.4 470.3,779.5 474.0,779.3 477.8,778.1 481.6,778.9 485.3,780.3 489.1,780.8 492.9,779.6 496.6,778.0 500.4,778.2 504.2,779.7 507.9,778.1 511.7,778.8 515.5,779.8 519.2,778.8 523.0,779.3 526.8,780.3 530.5,779.7 534.3,779.1 538.1,778.0 541.8,780.3 545.6,779.1 549.4,779.3 553.1,779.4 556.9,780.6 560.7,778.2 564.4,778.1 568.2,777.9 572.0,779.0 575.7,778.0 579.5,778.9 583.3,778.5 587.0,779.8 590.8,779.3 594.6,779.8 598.3,780.6 602.1,780.0 605.9,780.7 609.6,780.7 613.4,780.0 617.2,780.2 620.9,777.6 624.7,777.9 628.5,778.6 632.2,778.9 636.0,780.5 639.8,779.4 643.5,781.1 647.3,780.4 651.1,780.2 654.8,780.1 658.6,778.9 662.4,780.6 666.1,777.4 669.9,780.3 673.7,779.0 677.5,781.4 681.2,779.0 685.0,781.1 688.8,779.7 692.5,779.9 696.3,779.1 700.1,779.4 703.8,779.6 707.6,780.1 711.4,778.1 715.1,780.5 718.9,780.1 722.7,780.6 726.4,780.0 730.2,781.1 734.0,780.6 737.7,779.7 741.5,780.8 745.3,779.8 749.0,780.9 752.8,778.9 756.6,780.5 760.3,778.6 764.1,779.9 767.9,780.5 771.6,779.5 775.4,779.3 779.2,779.0 782.9,779.1 786.7,779.7 790.5,781.7 794.2,779.7 798.0,780.7 801.8,780.2 805.5,779.4 809.3,781.4 813.1,779.4 816.8,778.4 820.6,780.2 824.4,653.7 828.1,779.5 831.9,780.7 835.7,779.8 839.4,779.6 843.2,782.4 847.0,780.6 850.7,782.5 854.5,781.7 858.3,780.4 862.0,782.2 865.8,781.8 869.6,781.5 873.3,780.8 877.1,780.8 880.9,780.7 884.6,781.7 888.4,782.0 892.2,780.8 895.9,782.1 899.7,782.1 903.5,780.6 907.2,782.1 911.0,782.3 914.8,780.3 918.6,781.5 922.3,783.6 926.1,782.2 929.9,779.6 933.6,778.7 937.4,781.8 941.2,780.9 944.9,780.9 948.7,781.3 952.5,783.4 956.2,780.7 960.0,781.4 963.8,782.0 967.5,783.3 971.3,782.4 975.1,781.9 978.8,782.1 982.6,781.6 986.4,782.3 990.1,780.9 993.9,781.3 997.7,783.1 1001.4,722.3 1005.2,781.6 1009.0,782.6 1012.7,780.7 1016.5,782.6 1020.3,781.9 1024.0,781.5 1027.8,783.3 1031.6,781.0 1035.3,782.4 1039.1,782.9 1042.9,783.0 1046.6,784.0 1050.4,783.7 1054.2,780.9 1057.9,782.5 1061.7,782.7 1065.5,782.2 1069.2,781.9 1073.0,783.3 1076.8,782.7 1080.5,782.3 1084.3,781.6 1088.1,782.3 1091.8,781.0 1095.6,782.8 1099.4,783.0 1103.1,784.0 1106.9,782.7 1110.7,782.1 1114.4,783.0 1118.2,782.9 1122.0,783.8 1125.7,783.4 1129.5,783.3 1133.3,783.0 1137.0,781.9 1140.8,782.4 1144.6,782.1 1148.3,781.8 1152.1,783.5 1155.9,669.9 1159.7,783.0 1163.4,784.4 1167.2,783.7 1171.0,783.3 1174.7,784.7 1178.5,781.0 1182.3,783.3 1186.0,782.5 1189.8,784.6 1193.6,783.3 1197.3,783.2 1201.1,784.2 1204.9,783.3 1208.6,783.6 1212.4,783.3 1216.2,784.8 1219.9,783.2 1223.7,784.0 1227.5,784.6 1231.2,786.0 1235.0,784.1 1238.8,784.3 1242.5,781.6 1246.3,785.2 1250.1,782.6 1253.8,782.8 1257.6,783.7 1261.4,783.9 1265.1,783.7 1268.9,785.7 1272.7,782.9 1276.4,784.6 1280.2,785.1 1284.0,784.4 1287.7,787.1 1291.5,785.8 1295.3,785.7 1299.0,786.1 1302.8,784.0 1306.6,783.1 1310.3,784.7 1314.1,785.0 1317.9,784.4 1321.6,785.3 1325.4,784.7 1329.2,784.5 1332.9,785.1 1336.7,785.4 1340.5,784.9 1344.2,785.0 1348.0,784.4 1351.8,786.6 1355.5,786.2 1359.3,785.7 1363.1,784.8 1366.8,786.5 1370.6,784.1 1374.4,784.0 1378.1,786.1 1381.9,784.3 1385.7,787.5 1389.4,785.6 1393.2,787.1 1397.0,784.6 1400.8,784.8 1404.5,785.2 1408.3,786.3 1412.1,786.9 1415.8,785.4 1419.6,786.4 1423.4,785.2 1427.1,787.5 1430.9,785.6 1434.7,785.5 1438.4,788.3 1442.2,787.3 1446.0,786.8 1449.7,786.8 1453.5,787.9 1457.3,786.3 1461.0,787.4 1464.8,786.4 1468.6,788.2 1472.3,787.6 1476.1,785.8 1479.9,788.2 1483.6,786.6 1487.4,785.2 1491.2,785.8 1494.9,788.0 1498.7,784.5 1502.5,787.3 1506.2,785.9 1510.0,785.9 1513.8,787.2 1517.5,786.3 1521.3,789.6 1525.1,786.9 1528.8,786.8 1532.6,787.4 1536.4,787.0 1540.1,786.1 1543.9,786.2 1547.7,787.8 1551.4,786.4 1555.2,786.1 1559.0,787.2 1562.7,786.9 1566.5,789.8 1570.3,788.9 1574.0,787.1 1577.8,788.9 1581.6,786.7 1585.3,786.4 1589.1,788.5 1592.9,788.7 1596.6,787.8 1600.4,787.5 1604.2,786.9 1607.9,788.0 1611.7,787.8 1615.5,788.8 1619.2,787.6 1623.0,788.7 1626.8,787.0 1630.5,787.3 1634.3,789.6 1638.1,787.7 1641.8,789.1 1645.6,787.2 1649.4,789.2 1653.2,787.0 1656.9,787.2 1660.7,786.3 1664.5,788.0 1668.2,788.3 1672.0,787.2 1675.8,789.6 1679.5,788.5 1683.3,788.8 1687.1,788.6 1690.8,790.1 1694.6,790.2 1698.4,790.3 1702.1,787.2 1705.9,789.0 1709.7,788.1 1713.4,788.9 1717.2,789.0 1721.0,787.6 1724.7,791.1 1728.5,789.1 1732.3,789.7 1736.0,789.9 1739.8,790.6 1743.6,790.5 1747.3,790.2 1751.1,788.0 1754.9,789.8 1758.6,789.6 1762.4,789.4 1766.2,788.6 1769.9,788.3 1773.7,789.1 1777.5,789.4 1781.2,788.9 1785.0,790.2 1788.8,789.3 1792.5,787.9 1796.3,790.2 1800.1,790.4 1803.8,791.1 1807.6,789.6 1811.4,789.1 1815.1,790.1 1818.9,790.1 1822.7,788.6 1826.4,789.8 1830.2,789.2 1834.0,790.3 1837.7,788.7 1841.5,789.1 1845.3,790.2 1849.0,790.6 1852.8,787.6 1856.6,791.2 1860.3,791.1 1864.1,792.6 1867.9,789.6 1871.6,790.2 1875.4,790.4 1879.2,791.8 1883.0,790.4 1886.7,791.2 1890.5,791.6 1894.3,790.7 1898.0,790.2 1901.8,790.7 1905.6,791.1 1909.3,789.9 1913.1,790.5 1916.9,791.1 1920.6,790.2 1924.4,790.5 1928.2,790.0 1931.9,790.1 1935.7,790.2 1939.5,791.5 1943.2,789.7 1947.0,790.1 1950.8,791.6 1954.5,789.9 1958.3,791.1 1962.1,792.2 1965.8,791.3 1969.6,792.5 1973.4,790.2 1977.1,792.6 1980.9,790.0 1984.7,792.2 1988.4,791.6 1992.2,790.2 1996.0,791.2 1999.7,793.2 2003.5,791.7" fill="none" stroke="#36a2eb" stroke-width="3" stroke-linejoin="miter"/>
<polyline points="74.7,766.3 78.5,771.4 82.2,775.6 86.0,777.6 89.8,778.1 93.5,778.4 97.3,781.5 101.1,776.6 104.8,773.5 108.6,772.2 112.4,774.5 116.1,777.1 119.9,776.2 123.7,776.7 127.4,777.7 131.2,777.8 135.0,775.3 138.7,777.9 142.5,778.3 146.3,778.7 150.0,777.6 153.8,777.6 157.6,778.0 161.3,777.8 165.1,777.5 168.9,777.1 172.6,776.8 176.4,777.6 180.2,779.4 183.9,777.2 187.7,779.1 191.5,778.0 195.2,779.2 199.0,777.9 202.8,778.6 206.6,777.7 210.3,774.9 214.1,778.0 217.9,777.2 221.6,649.8 225.4,778.2 229.2,777.4 232.9,778.1 236.7,777.7 240.5,777.9 244.2,779.0 248.0,777.6 251.8,778.8 255.5,776.4 259.3,778.6 263.1,777.5 266.8,778.1 270.6,777.3 274.4,778.7 278.1,777.3 281.9,778.3 285.7,777.1 289.4,777.7 293.2,778.1 297.0,779.0 300.7,777.6 304.5,777.9 308.3,776.8 312.0,778.7 315.8,777.9 319.6,777.9 323.3,778.1 327.1,778.2 330.9,778.2 334.6,779.0 338.4,779.4 342.2,778.8 345.9,777.9 349.7,777.1 353.5,777.6 357.2,777.6 361.0,777.8 364.8,777.9 368.5,778.4 372.3,777.9 376.1,777.0 379.8,778.9 383.6,779.3 387.4,776.9 391.1,778.4 394.9,777.8 398.7,777.9 402.4,779.7 406.2,776.5 410.0,777.1 413.7,778.6 417.5,778.1 421.3,778.7 425.0,779.6 428.8,778.9 432.6,778.5 436.3,777.8 440.1,778.2 443.9,778.8 447.7,777.7 451.4,779.6 455.2,778.2 459.0,777.9 462.7,779.2 466.5,780.6 470.3,779.8 474.0,778.8 477.8,778.5 481.6,777.6 485.3,780.0 489.1,779.1 492.9,778.5 496.6,779.2 500.4,781.2 504.2,778.4 507.9,777.1 511.7,778.3 515.5,780.0 519.2,779.6 523.0,779.0 526.8,777.0 530.5,778.7 534.3,779.1 538.1,777.9 541.8,779.4 545.6,777.6 549.4,779.9 553.1,779.8 556.9,778.7 560.7,778.1 564.4,778.8 568.2,779.1 572.0,781.0 575.7,780.1 579.5,780.0 583.3,779.9 587.0,778.9 590.8,779.8 594.6,778.8 598.3,779.4 602.1,779.8 605.9,779.4 609.6,779.2 613.4,778.8 617.2,780.0 620.9,779.8 624.7,780.8 628.5,778.2 632.2,778.3 636.0,779.8 639.8,780.1 643.5,780.8 647.3,779.6 651.1,779.5 654.8,777.8 658.6,779.5 662.4,780.5 666.1,782.0 669.9,778.5 673.7,779.7 677.5,781.3 681.2,779.7 685.0,781.3 688.8,776.8 692.5,778.9 696.3,779.4 700.1,780.1 703.8,781.9 707.6,780.1 711.4,781.4 715.1,779.5 718.9,782.0 722.7,780.9 726.4,779.0 730.2,778.7 734.0,781.2 737.7,781.6 741.5,779.4 745.3,779.5 749.0,781.1 752.8,780.9 756.6,780.9 760.3,781.4 764.1,781.0 767.9,779.3 771.6,779.8 775.4,778.6 779.2,780.5 782.9,780.6 786.7,781.4 790.5,780.6 794.2,781.7 798.0,782.2 801.8,780.0 805.5,779.3 809.3,779.9 813.1,779.5 816.8,780.5 820.6,781.4 824.4,653.7 828.1,781.1 831.9,781.8 835.7,782.4 839.4,782.2 843.2,780.9 847.0,780.8 850.7,781.4 854.5,779.7 858.3,780.8 862.0,780.5 865.8,779.9 869.6,781.8 873.3,782.9 877.1,780.4 880.9,781.8 884.6,780.0 888.4,780.9 892.2,780.3 895.9,780.6 899.7,783.1 903.5,780.6 907.2,781.9 911.0,782.0 914.8,781.8 918.6,780.7 922.3,780.6 926.1,780.5 929.9,783.0 933.6,782.0 937.4,783.7 941.2,781.6 944.9,781.0 948.7,782.3 952.5,781.4 956.2,781.4 960.0,780.8 963.8,782.4 967.5,782.5 971.3,782.4 975.1,780.2 978.8,780.8 982.6,781.9 986.4,781.6 990.1,781.8 993.9,781.7 997.7,782.1 1001.4,722.3 1005.2,783.1 1009.0,782.6 1012.7,780.5 1016.5,781.6 1020.3,782.0 1024.0,782.3 1027.8,782.1 1031.6,781.8 1035.3,782.8 1039.1,782.0 1042.9,782.0 1046.6,782.9 1050.4,783.0 1054.2,783.2 1057.9,783.3 1061.7,781.6 1065.5,784.5 1069.2,782.6 1073.0,783.0 1076.8,783.0 1080.5,782.4 1084.3,781.5 1088.1,782.5 1091.8,782.7 1095.6,783.1 1099.4,782.7 1103.1,781.8 1106.9,783.0 1110.7,783.7 1114.4,783.8 1118.2,783.7 1122.0,784.0 1125.7,781.8 1129.5,782.5 1133.3,783.1 1137.0,781.5 1140.8,783.5 1144.6,782.2 1148.3,782.2 1152.1,784.4 1155.9,669.9 1159.7,783.8 1163.4,782.2 1167.2,781.9 1171.0,784.2 1174.7,782.2 1178.5,783.6 1182.3,783.6 1186.0,783.8 1189.8,783.6 1193.6,785.0 1197.3,784.3 1201.1,784.6 1204.9,783.1 1208.6,781.7 1212.4,781.1 1216.2,783.9 1219.9,785.2 1223.7,784.1 1227.5,784.6 1231.2,782.0 1235.0,783.3 1238.8,784.5 1242.5,783.1 1246.3,783.5 1250.1,785.4 1253.8,784.5 1257.6,784.3 1261.4,784.1 1265.1,784.0 1268.9,784.5 1272.7,784.0 1276.4,784.8 1280.2,785.1 1284.0,783.0 1287.7,784.1 1291.5,784.0 1295.3,785.9 1299.0,784.6 1302.8,783.8 1306.6,785.7 1310.3,783.6 1314.1,785.0 1317.9,784.3 1321.6,784.9 1325.4,784.6 1329.2,783.7 1332.9,785.2 1336.7,783.5 1340.5,785.6 1344.2,785.8 1348.0,784.4 1351.8,786.0 1355.5,785.4 1359.3,784.3 1363.1,784.1 1366.8,786.8 1370.6,784.8 1374.4,783.6 1378.1,784.3 1381.9,785.6 1385.7,786.0 1389.4,785.7 1393.2,786.5 1397.0,785.8 1400.8,785.7 1404.5,785.7 1408.3,784.6 1412.1,785.9 1415.8,787.0 1419.6,784.8 1423.4,786.8 1427.1,786.3 1430.9,786.0 1434.7,786.2 1438.4,786.9 1442.2,786.2 1446.0,784.1 1449.7,786.6 1453.5,786.3 1457.3,785.2 1461.0,785.5 1464.8,785.6 1468.6,785.5 1472.3,788.1 1476.1,787.2 1479.9,786.3 1483.6,786.0 1487.4,785.3 1491.2,786.1 1494.9,786.8 1498.7,786.6 1502.5,786.8 1506.2,786.5 1510.0,786.1 1513.8,787.1 1517.5,787.5 1521.3,787.6 1525.1,785.9 1528.8,785.7 1532.6,786.0 1536.4,786.2 1540.1,786.3 1543.9,787.0 1547.7,786.5 1551.4,788.1 1555.2,787.3 1559.0,787.8 1562.7,786.6 1566.5,787.8 1570.3,787.4 1574.0,787.0 1577.8,786.1 1581.6,788.1 1585.3,788.3 1589.1,786.7 1592.9,788.5 1596.6,787.1 1600.4,788.1 1604.2,787.7 1607.9,789.3 1611.7,787.0 1615.5,788.2 1619.2,788.6 1623.0,785.9 1626.8,787.2 1630.5,784.7 1634.3,787.5 1638.1,788.2 1641.8,787.9 1645.6,786.5 1649.4,788.1 1653.2,787.7 1656.9,787.6 1660.7,789.0 1664.5,788.1 1668.2,788.7 1672.0,789.4 1675.8,787.5 1679.5,787.7 1683.3,788.3 1687.1,789.2 1690.8,790.2 1694.6,788.0 1698.4,788.6 1702.1,790.0 1705.9,788.6 1709.7,790.0 1713.4,788.7 1717.2,788.5 1721.0,788.4 1724.7,788.5 1728.5,788.6 1732.3,789.8 1736.0,789.2 1739.8,789.3 1743.6,789.1 1747.3,788.7 1751.1,788.4 1754.9,787.5 1758.6,791.4 1762.4,788.7 1766.2,789.3 1769.9,787.1 1773.7,788.4 1777.5,790.7 1781.2,788.9 1785.0,789.8 1788.8,788.4 1792.5,790.3 1796.3,789.5 1800.1,789.6 1803.8,789.6 1807.6,790.0 1811.4,791.2 1815.1,789.2 1818.9,788.7 1822.7,789.7 1826.4,790.6 1830.2,789.6 1834.0,789.3 1837.7,790.0 1841.5,789.9 1845.3,788.6 1849.0,790.9 1852.8,790.5 1856.6,791.7 1860.3,790.7 1864.1,790.8 1867.9,791.0 1871.6,790.8 1875.4,788.6 1879.2,790.4 1883.0,790.4 1886.7,788.3 1890.5,790.4 1894.3,792.0 1898.0,790.1 1901.8,791.3 1905.6,789.0 1909.3,791.7 1913.1,791.1 1916.9,792.1 1920.6,790.6 1924.4,791.6 1928.2,790.8 1931.9,791.1 1935.7,791.4 1939.5,790.0 1943.2,790.0 1947.0,790.9 1950.8,791.8 1954.5,792.0 1958.3,790.8 1962.1,788.9 1965.8,791.5 1969.6,791.9 1973.4,791.8 1977.1,792.2 1980.9,792.1 1984.7,791.5 1988.4,790.1 1992.2,791.4 1996.0,791.9 1999.7,792.9 2003.5,791.3" fill="none" stroke="#ff6384" stroke-width="3" stroke-linejoin="miter"/>
</svg>
<div style="position:absolute;left:29.50px;top:78.20px;font:400 28px/28px 'Liberation Sans', sans-serif;color:#000;white-space:pre;letter-spacing:-0.15px">Signal Generator</div>
<div style="position:absolute;right:1515.50px;top:76.53px;font:400 16.5px/16.5px 'Liberation Sans', sans-serif;color:#202020;white-space:pre;">DAC Output</div>
<div style="position:absolute;left:30px;top:119px;width:93px;height:28px;background:#48bb78;border-radius:4px"></div>
<div style="position:absolute;left:-223.50px;width:600px;text-align:center;top:126.15px;font:700 14px/14px 'Liberation Sans', sans-serif;color:#fff;white-space:pre;">Add Tone</div>
<svg style="position:absolute;left:221.8px;top:127px" width="20" height="12" viewBox="0 0 20 12"><rect x="0" y="0.3" width="19.8" height="11.4" rx="5.7" fill="#48bb78"/><circle cx="13.9" cy="6" r="4.4" fill="#fff"/></svg>
<div style="position:absolute;left:246.50px;top:125.75px;font:400 14px/14px 'Liberation Sans', sans-serif;color:#3a3a3a;white-space:pre;">Autoscale -7.52 dB</div>
<div style="position:absolute;left:466.3px;top:119px;width:66.69999999999999px;height:28px;background:#48bb78;border-radius:4px"></div>
<div style="position:absolute;left:199.65px;width:600px;text-align:center;top:126.15px;font:700 14px/14px 'Liberation Sans', sans-serif;color:#fff;white-space:pre;">Reset</div>
<div style="position:absolute;left:34.8px;top:161.3px;width:493.4px;height:73.8px;box-sizing:border-box;border:1px solid #dcdcdc;border-radius:12px"></div>
<div style="position:absolute;left:44.80px;top:177.85px;font:400 14px/14px 'Liberation Sans', sans-serif;color:#333;white-space:pre;">1</div>
<div style="position:absolute;left:57.3px;top:179.9px;width:118.10000000000001px;height:9.2px;background:#cbd5e0;border-radius:4.6px"></div>
<div style="position:absolute;left:57.3px;top:179.9px;width:47.94383561643836px;height:9.2px;background:#48bb78;border-radius:4.6px 0 0 4.6px"></div>
<div style="position:absolute;left:95.54383561643836px;top:174.8px;width:19.4px;height:19.4px;box-sizing:border-box;background:#fff;border:2.2px solid #48bb78;border-radius:50%"></div>
<div style="position:absolute;left:-194.76px;width:600px;text-align:center;top:197.55px;font:400 14px/14px 'Liberation Sans', sans-serif;color:#333;white-space:pre;">199</div>
<div style="position:absolute;left:180.20px;top:177.85px;font:400 14px/14px 'Liberation Sans', sans-serif;color:#333;white-space:pre;">512</div>
<div style="position:absolute;left:213.3px;top:174.10000000000002px;width:92.1px;height:29.6px;box-sizing:border-box;background:#f3f3f3;border:1px solid #dcdfe6;border-radius:6px"></div>
<div style="position:absolute;left:220.70px;top:181.27px;font:400 17px/17px 'Liberation Mono', monospace;color:#404040;white-space:pre;transform:scale(0.843,1.07);transform-origin:0 0">24291.992</div>
<div style="position:absolute;right:1742.60px;top:208.45px;font:400 14px/14px 'Liberation Sans', sans-serif;color:#333;white-space:pre;">kHz</div>
<div style="position:absolute;left:315px;top:171.60000000000002px;width:69.80000000000001px;height:34.5px;box-sizing:border-box;border:1.5px solid #8fd6aa;border-radius:5px"></div>
<div style="position:absolute;right:1663.70px;top:210.05px;font:400 14px/14px 'Liberation Sans', sans-serif;color:#333;white-space:pre;">dBFS</div>
<svg style="position:absolute;left:394.0px;top:192.3px" width="20" height="12" viewBox="0 0 20 12"><rect x="0" y="0.3" width="19.8" height="11.4" rx="5.7" fill="#48bb78"/><circle cx="13.9" cy="6" r="4.4" fill="#fff"/></svg>
<div style="position:absolute;left:419.30px;top:190.95px;font:400 14px/14px 'Liberation Sans', sans-serif;color:#383838;white-space:pre;">Enabled</div>
<div style="position:absolute;left:480.6px;top:184.20000000000002px;width:37.299999999999955px;height:28.099999999999994px;background:#48bb78;border-radius:4px"></div>
<div style="position:absolute;left:199.25px;width:600px;text-align:center;top:191.40px;font:700 14px/14px 'Liberation Sans', sans-serif;color:#fff;white-space:pre;">X</div>
<div style="position:absolute;left:27.30px;width:600px;text-align:center;top:180.97px;font:400 17px/17px 'Liberation Mono', monospace;color:#404040;white-space:pre;transform:scaleX(1.15)">-</div>
<div style="position:absolute;left:40.20px;width:600px;text-align:center;top:180.97px;font:400 17px/17px 'Liberation Mono', monospace;color:#404040;white-space:pre;transform:scaleX(0.843)"><span class=z>0</span></div>
<div style="position:absolute;left:55.10px;width:600px;text-align:center;top:180.97px;font:400 17px/17px 'Liberation Mono', monospace;color:#404040;white-space:pre;transform:scaleX(0.843)"><span class=z>0</span></div>
<div style="position:absolute;left:70.00px;width:600px;text-align:center;top:180.97px;font:400 17px/17px 'Liberation Mono', monospace;color:#404040;white-space:pre;transform:scaleX(0.843)">1</div>
<div style="position:absolute;left:34.8px;top:244.95000000000002px;width:493.4px;height:73.8px;box-sizing:border-box;border:1px solid #dcdcdc;border-radius:12px"></div>
<div style="position:absolute;left:44.80px;top:261.50px;font:400 14px/14px 'Liberation Sans', sans-serif;color:#333;white-space:pre;">1</div>
<div style="position:absolute;left:57.3px;top:263.55px;width:118.10000000000001px;height:9.2px;background:#cbd5e0;border-radius:4.6px"></div>
<div style="position:absolute;left:57.3px;top:263.55px;width:64.94109589041098px;height:9.2px;background:#48bb78;border-radius:4.6px 0 0 4.6px"></div>
<div style="position:absolute;left:112.54109589041097px;top:258.45000000000005px;width:19.4px;height:19.4px;box-sizing:border-box;background:#fff;border:2.2px solid #48bb78;border-radius:50%"></div>
<div style="position:absolute;left:-177.76px;width:600px;text-align:center;top:281.20px;font:400 14px/14px 'Liberation Sans', sans-serif;color:#333;white-space:pre;">287</div>
<div style="position:absolute;left:180.20px;top:261.50px;font:400 14px/14px 'Liberation Sans', sans-serif;color:#333;white-space:pre;">512</div>
<div style="position:absolute;left:213.3px;top:257.75px;width:92.1px;height:29.6px;box-sizing:border-box;background:#f3f3f3;border:1px solid #dcdfe6;border-radius:6px"></div>
<div style="position:absolute;left:220.70px;top:264.92px;font:400 17px/17px 'Liberation Mono', monospace;color:#404040;white-space:pre;transform:scale(0.843,1.07);transform-origin:0 0">35<span class=z>0</span>34.18<span class=z>0</span></div>
<div style="position:absolute;right:1742.60px;top:292.10px;font:400 14px/14px 'Liberation Sans', sans-serif;color:#333;white-space:pre;">kHz</div>
<div style="position:absolute;left:315px;top:255.25000000000003px;width:69.80000000000001px;height:34.5px;box-sizing:border-box;border:1.5px solid #8fd6aa;border-radius:5px"></div>
<div style="position:absolute;right:1663.70px;top:293.70px;font:400 14px/14px 'Liberation Sans', sans-serif;color:#333;white-space:pre;">dBFS</div>
<svg style="position:absolute;left:394.0px;top:275.95000000000005px" width="20" height="12" viewBox="0 0 20 12"><rect x="0" y="0.3" width="19.8" height="11.4" rx="5.7" fill="#48bb78"/><circle cx="13.9" cy="6" r="4.4" fill="#fff"/></svg>
<div style="position:absolute;left:419.30px;top:274.60px;font:400 14px/14px 'Liberation Sans', sans-serif;color:#383838;white-space:pre;">Enabled</div>
<div style="position:absolute;left:480.6px;top:267.85px;width:37.299999999999955px;height:28.100000000000023px;background:#48bb78;border-radius:4px"></div>
<div style="position:absolute;left:199.25px;width:600px;text-align:center;top:275.05px;font:700 14px/14px 'Liberation Sans', sans-serif;color:#fff;white-space:pre;">X</div>
<div style="position:absolute;left:27.30px;width:600px;text-align:center;top:264.62px;font:400 17px/17px 'Liberation Mono', monospace;color:#404040;white-space:pre;transform:scaleX(1.15)">-</div>
<div style="position:absolute;left:40.20px;width:600px;text-align:center;top:264.62px;font:400 17px/17px 'Liberation Mono', monospace;color:#404040;white-space:pre;transform:scaleX(0.843)"><span class=z>0</span></div>
<div style="position:absolute;left:55.10px;width:600px;text-align:center;top:264.62px;font:400 17px/17px 'Liberation Mono', monospace;color:#404040;white-space:pre;transform:scaleX(0.843)"><span class=z>0</span></div>
<div style="position:absolute;left:362.1px;top:262.75px;width:14.9px;height:18.8px;background:#48bb78;border-radius:1px"></div>
<div style="position:absolute;left:70.00px;width:600px;text-align:center;top:264.62px;font:400 17px/17px 'Liberation Mono', monospace;color:#fff;white-space:pre;transform:scaleX(0.843)">7</div>
<svg style="position:absolute;left:363px;top:257.15px" width="13" height="31" viewBox="0 0 13 31"><path d="M0.4 4.8 L6.1 0 L11.8 4.8 Z" fill="#333"/><path d="M0.4 25.9 L6.1 30.8 L11.8 25.9 Z" fill="#333"/></svg>
<div style="position:absolute;left:34.8px;top:328.6px;width:493.4px;height:73.8px;box-sizing:border-box;border:1px solid #dcdcdc;border-radius:12px"></div>
<div style="position:absolute;left:44.80px;top:345.15px;font:400 14px/14px 'Liberation Sans', sans-serif;color:#333;white-space:pre;">1</div>
<div style="position:absolute;left:57.3px;top:347.2px;width:118.10000000000001px;height:9.2px;background:#cbd5e0;border-radius:4.6px"></div>
<div style="position:absolute;left:57.3px;top:347.2px;width:57.021917808219186px;height:9.2px;background:#48bb78;border-radius:4.6px 0 0 4.6px"></div>
<div style="position:absolute;left:104.62191780821918px;top:342.1px;width:19.4px;height:19.4px;box-sizing:border-box;background:#fff;border:2.2px solid #48bb78;border-radius:50%"></div>
<div style="position:absolute;left:-185.68px;width:600px;text-align:center;top:364.85px;font:400 14px/14px 'Liberation Sans', sans-serif;color:#333;white-space:pre;">246</div>
<div style="position:absolute;left:180.20px;top:345.15px;font:400 14px/14px 'Liberation Sans', sans-serif;color:#333;white-space:pre;">512</div>
<div style="position:absolute;left:213.3px;top:341.40000000000003px;width:92.1px;height:29.6px;box-sizing:border-box;background:#f3f3f3;border:1px solid #dcdfe6;border-radius:6px"></div>
<div style="position:absolute;left:220.70px;top:348.57px;font:400 17px/17px 'Liberation Mono', monospace;color:#404040;white-space:pre;transform:scale(0.843,1.07);transform-origin:0 0">3<span class=z>0</span><span class=z>0</span>29.297</div>
<div style="position:absolute;right:1742.60px;top:375.75px;font:400 14px/14px 'Liberation Sans', sans-serif;color:#333;white-space:pre;">kHz</div>
<div style="position:absolute;left:315px;top:338.90000000000003px;width:69.80000000000001px;height:34.5px;box-sizing:border-box;border:1.5px solid #8fd6aa;border-radius:5px"></div>
<div style="position:absolute;right:1663.70px;top:377.35px;font:400 14px/14px 'Liberation Sans', sans-serif;color:#333;white-space:pre;">dBFS</div>
<svg style="position:absolute;left:394.0px;top:359.6px" width="20" height="12" viewBox="0 0 20 12"><rect x="0" y="0.3" width="19.8" height="11.4" rx="5.7" fill="#48bb78"/><circle cx="13.9" cy="6" r="4.4" fill="#fff"/></svg>
<div style="position:absolute;left:419.30px;top:358.25px;font:400 14px/14px 'Liberation Sans', sans-serif;color:#383838;white-space:pre;">Enabled</div>
<div style="position:absolute;left:480.6px;top:351.5px;width:37.299999999999955px;height:28.100000000000023px;background:#48bb78;border-radius:4px"></div>
<div style="position:absolute;left:199.25px;width:600px;text-align:center;top:358.70px;font:700 14px/14px 'Liberation Sans', sans-serif;color:#fff;white-space:pre;">X</div>
<div style="position:absolute;left:27.30px;width:600px;text-align:center;top:348.27px;font:400 17px/17px 'Liberation Mono', monospace;color:#404040;white-space:pre;transform:scaleX(1.15)">-</div>
<div style="position:absolute;left:40.20px;width:600px;text-align:center;top:348.27px;font:400 17px/17px 'Liberation Mono', monospace;color:#404040;white-space:pre;transform:scaleX(0.843)"><span class=z>0</span></div>
<div style="position:absolute;left:55.10px;width:600px;text-align:center;top:348.27px;font:400 17px/17px 'Liberation Mono', monospace;color:#404040;white-space:pre;transform:scaleX(0.843)">2</div>
<div style="position:absolute;left:70.00px;width:600px;text-align:center;top:348.27px;font:400 17px/17px 'Liberation Mono', monospace;color:#404040;white-space:pre;transform:scaleX(0.843)">8</div>
<div style="position:absolute;left:34.8px;top:412.25px;width:493.4px;height:73.8px;box-sizing:border-box;border:1px solid #dcdcdc;border-radius:12px"></div>
<div style="position:absolute;left:44.80px;top:428.80px;font:400 14px/14px 'Liberation Sans', sans-serif;color:#333;white-space:pre;">1</div>
<div style="position:absolute;left:57.3px;top:430.84999999999997px;width:128.40000000000003px;height:9.2px;background:#cbd5e0;border-radius:4.6px"></div>
<div style="position:absolute;left:57.3px;top:430.84999999999997px;width:17.805675146771037px;height:9.2px;background:#48bb78;border-radius:4.6px 0 0 4.6px"></div>
<div style="position:absolute;left:65.40567514677103px;top:425.75px;width:19.4px;height:19.4px;box-sizing:border-box;background:#fff;border:2.2px solid #48bb78;border-radius:50%"></div>
<div style="position:absolute;left:-224.89px;width:600px;text-align:center;top:448.50px;font:400 14px/14px 'Liberation Sans', sans-serif;color:#333;white-space:pre;">39</div>
<div style="position:absolute;left:190.50px;top:428.80px;font:400 14px/14px 'Liberation Sans', sans-serif;color:#333;white-space:pre;">512</div>
<div style="position:absolute;left:223.60000000000002px;top:425.05px;width:92.1px;height:29.6px;box-sizing:border-box;background:#f3f3f3;border:1px solid #dcdfe6;border-radius:6px"></div>
<div style="position:absolute;left:231.00px;top:432.22px;font:400 17px/17px 'Liberation Mono', monospace;color:#404040;white-space:pre;transform:scale(0.843,1.07);transform-origin:0 0"><span class=z>0</span>476<span class=z>0</span>.742</div>
<div style="position:absolute;right:1732.30px;top:459.40px;font:400 14px/14px 'Liberation Sans', sans-serif;color:#333;white-space:pre;">kHz</div>
<div style="position:absolute;left:325px;top:422.55px;width:59.80000000000001px;height:34.5px;box-sizing:border-box;border:1.5px solid #8fd6aa;border-radius:5px"></div>
<div style="position:absolute;right:1663.70px;top:461.00px;font:400 14px/14px 'Liberation Sans', sans-serif;color:#333;white-space:pre;">dBFS</div>
<svg style="position:absolute;left:394.0px;top:443.25px" width="20" height="12" viewBox="0 0 20 12"><rect x="0" y="0.3" width="19.8" height="11.4" rx="5.7" fill="#48bb78"/><circle cx="13.9" cy="6" r="4.4" fill="#fff"/></svg>
<div style="position:absolute;left:419.30px;top:441.90px;font:400 14px/14px 'Liberation Sans', sans-serif;color:#383838;white-space:pre;">Enabled</div>
<div style="position:absolute;left:480.6px;top:435.15px;width:37.299999999999955px;height:28.100000000000023px;background:#48bb78;border-radius:4px"></div>
<div style="position:absolute;left:199.25px;width:600px;text-align:center;top:442.35px;font:700 14px/14px 'Liberation Sans', sans-serif;color:#fff;white-space:pre;">X</div>
<div style="position:absolute;left:39.10px;width:600px;text-align:center;top:431.92px;font:400 17px/17px 'Liberation Mono', monospace;color:#404040;white-space:pre;transform:scaleX(0.843)"><span class=z>0</span></div>
<div style="position:absolute;left:54.00px;width:600px;text-align:center;top:431.92px;font:400 17px/17px 'Liberation Mono', monospace;color:#404040;white-space:pre;transform:scaleX(0.843)"><span class=z>0</span></div>
<div style="position:absolute;left:68.90px;width:600px;text-align:center;top:431.92px;font:400 17px/17px 'Liberation Mono', monospace;color:#404040;white-space:pre;transform:scaleX(0.843)"><span class=z>0</span></div>
<div style="position:absolute;left:570.50px;top:78.60px;font:400 28px/28px 'Liberation Sans', sans-serif;color:#000;white-space:pre;letter-spacing:0.1px">Time Domain</div>
<div style="position:absolute;right:27.20px;top:75.83px;font:400 16.5px/16.5px 'Liberation Sans', sans-serif;color:#202020;white-space:pre;">ADC Input</div>
<svg style="position:absolute;left:1779.4px;top:136.0px" width="20" height="12" viewBox="0 0 20 12"><rect x="0" y="0.3" width="19.8" height="11.4" rx="5.7" fill="#48bb78"/><circle cx="13.9" cy="6" r="4.4" fill="#fff"/></svg>
<div style="position:absolute;left:1804.20px;top:134.95px;font:400 14px/14px 'Liberation Sans', sans-serif;color:#383838;white-space:pre;">Enabled</div>
<div style="position:absolute;left:1865.3px;top:128.4px;width:78.60000000000014px;height:28.0px;background:#48bb78;border-radius:4px"></div>
<div style="position:absolute;left:1604.60px;width:600px;text-align:center;top:135.55px;font:700 14px/14px 'Liberation Sans', sans-serif;color:#fff;white-space:pre;">Sample</div>
<div style="position:absolute;left:1953.5px;top:128.4px;width:66.70000000000005px;height:28.0px;background:#48bb78;border-radius:4px"></div>
<div style="position:absolute;left:1686.85px;width:600px;text-align:center;top:135.55px;font:700 14px/14px 'Liberation Sans', sans-serif;color:#fff;white-space:pre;">Reset</div>
<div style="position:absolute;right:1433.80px;top:170.25px;font:400 14px/14px 'Liberation Sans', sans-serif;color:#707070;white-space:pre;">8,192</div>
<div style="position:absolute;right:1433.80px;top:206.48px;font:400 14px/14px 'Liberation Sans', sans-serif;color:#707070;white-space:pre;">6,000</div>
<div style="position:absolute;right:1433.80px;top:239.54px;font:400 14px/14px 'Liberation Sans', sans-serif;color:#707070;white-space:pre;">4,000</div>
<div style="position:absolute;right:1433.80px;top:272.59px;font:400 14px/14px 'Liberation Sans', sans-serif;color:#707070;white-space:pre;">2,000</div>
<div style="position:absolute;right:1433.80px;top:305.65px;font:400 14px/14px 'Liberation Sans', sans-serif;color:#707070;white-space:pre;">0</div>
<div style="position:absolute;right:1433.80px;top:338.71px;font:400 14px/14px 'Liberation Sans', sans-serif;color:#707070;white-space:pre;">-2,000</div>
<div style="position:absolute;right:1433.80px;top:371.76px;font:400 14px/14px 'Liberation Sans', sans-serif;color:#707070;white-space:pre;">-4,000</div>
<div style="position:absolute;right:1433.80px;top:404.82px;font:400 14px/14px 'Liberation Sans', sans-serif;color:#707070;white-space:pre;">-6,000</div>
<div style="position:absolute;right:1433.80px;top:441.05px;font:400 14px/14px 'Liberation Sans', sans-serif;color:#707070;white-space:pre;">-8,192</div>
<div style="position:absolute;left:327.70px;width:600px;text-align:center;top:462.65px;font:400 14px/14px 'Liberation Sans', sans-serif;color:#707070;white-space:pre;">0</div>
<div style="position:absolute;left:595.38px;width:600px;text-align:center;top:462.65px;font:400 14px/14px 'Liberation Sans', sans-serif;color:#707070;white-space:pre;">200</div>
<div style="position:absolute;left:863.05px;width:600px;text-align:center;top:462.65px;font:400 14px/14px 'Liberation Sans', sans-serif;color:#707070;white-space:pre;">400</div>
<div style="position:absolute;left:1130.73px;width:600px;text-align:center;top:462.65px;font:400 14px/14px 'Liberation Sans', sans-serif;color:#707070;white-space:pre;">600</div>
<div style="position:absolute;left:1398.40px;width:600px;text-align:center;top:462.65px;font:400 14px/14px 'Liberation Sans', sans-serif;color:#707070;white-space:pre;">800</div>
<div style="position:absolute;left:1698.20px;width:600px;text-align:center;top:462.65px;font:400 14px/14px 'Liberation Sans', sans-serif;color:#707070;white-space:pre;">1,024</div>
<div style="position:absolute;left:1224.60px;top:493.45px;font:400 14px/14px 'Liberation Sans', sans-serif;color:#707070;white-space:pre;">Channel 1</div>
<div style="position:absolute;left:1355.40px;top:493.45px;font:400 14px/14px 'Liberation Sans', sans-serif;color:#707070;white-space:pre;">Channel 2</div>
<div style="position:absolute;left:30.00px;top:565.40px;font:400 28px/28px 'Liberation Sans', sans-serif;color:#000;white-space:pre;letter-spacing:-0.25px">Spectrum - (1,024-pt FFT)</div>
<div style="position:absolute;right:27.20px;top:562.13px;font:400 16.5px/16.5px 'Liberation Sans', sans-serif;color:#202020;white-space:pre;">ADC Input</div>
<div style="position:absolute;right:1986.60px;top:608.95px;font:400 14px/14px 'Liberation Sans', sans-serif;color:#707070;white-space:pre;">0</div>
<div style="position:absolute;right:1986.60px;top:634.66px;font:400 14px/14px 'Liberation Sans', sans-serif;color:#707070;white-space:pre;">-10</div>
<div style="position:absolute;right:1986.60px;top:660.36px;font:400 14px/14px 'Liberation Sans', sans-serif;color:#707070;white-space:pre;">-20</div>
<div style="position:absolute;right:1986.60px;top:686.07px;font:400 14px/14px 'Liberation Sans', sans-serif;color:#707070;white-space:pre;">-30</div>
<div style="position:absolute;right:1986.60px;top:711.78px;font:400 14px/14px 'Liberation Sans', sans-serif;color:#707070;white-space:pre;">-40</div>
<div style="position:absolute;right:1986.60px;top:737.49px;font:400 14px/14px 'Liberation Sans', sans-serif;color:#707070;white-space:pre;">-50</div>
<div style="position:absolute;right:1986.60px;top:763.20px;font:400 14px/14px 'Liberation Sans', sans-serif;color:#707070;white-space:pre;">-60</div>
<div style="position:absolute;right:1986.60px;top:788.90px;font:400 14px/14px 'Liberation Sans', sans-serif;color:#707070;white-space:pre;">-70</div>
<div style="position:absolute;right:1986.60px;top:814.61px;font:400 14px/14px 'Liberation Sans', sans-serif;color:#707070;white-space:pre;">-80</div>
<div style="position:absolute;right:1986.60px;top:840.32px;font:400 14px/14px 'Liberation Sans', sans-serif;color:#707070;white-space:pre;">-90</div>
<div style="position:absolute;right:1986.60px;top:866.03px;font:400 14px/14px 'Liberation Sans', sans-serif;color:#707070;white-space:pre;">-100</div>
<div style="position:absolute;right:1986.60px;top:891.73px;font:400 14px/14px 'Liberation Sans', sans-serif;color:#707070;white-space:pre;">-110</div>
<div style="position:absolute;right:1986.60px;top:917.44px;font:400 14px/14px 'Liberation Sans', sans-serif;color:#707070;white-space:pre;">-120</div>
<div style="position:absolute;right:1986.60px;top:943.15px;font:400 14px/14px 'Liberation Sans', sans-serif;color:#707070;white-space:pre;">-130</div>
<div style="position:absolute;left:-225.30px;width:600px;text-align:center;top:964.55px;font:400 14px/14px 'Liberation Sans', sans-serif;color:#707070;white-space:pre;">0</div>
<div style="position:absolute;left:-71.00px;width:600px;text-align:center;top:964.55px;font:400 14px/14px 'Liberation Sans', sans-serif;color:#707070;white-space:pre;">5</div>
<div style="position:absolute;left:83.31px;width:600px;text-align:center;top:964.55px;font:400 14px/14px 'Liberation Sans', sans-serif;color:#707070;white-space:pre;">10</div>
<div style="position:absolute;left:237.61px;width:600px;text-align:center;top:964.55px;font:400 14px/14px 'Liberation Sans', sans-serif;color:#707070;white-space:pre;">15</div>
<div style="position:absolute;left:391.92px;width:600px;text-align:center;top:964.55px;font:400 14px/14px 'Liberation Sans', sans-serif;color:#707070;white-space:pre;">20</div>
<div style="position:absolute;left:546.22px;width:600px;text-align:center;top:964.55px;font:400 14px/14px 'Liberation Sans', sans-serif;color:#707070;white-space:pre;">25</div>
<div style="position:absolute;left:700.52px;width:600px;text-align:center;top:964.55px;font:400 14px/14px 'Liberation Sans', sans-serif;color:#707070;white-space:pre;">30</div>
<div style="position:absolute;left:854.83px;width:600px;text-align:center;top:964.55px;font:400 14px/14px 'Liberation Sans', sans-serif;color:#707070;white-space:pre;">35</div>
<div style="position:absolute;left:1009.13px;width:600px;text-align:center;top:964.55px;font:400 14px/14px 'Liberation Sans', sans-serif;color:#707070;white-space:pre;">40</div>
<div style="position:absolute;left:1163.44px;width:600px;text-align:center;top:964.55px;font:400 14px/14px 'Liberation Sans', sans-serif;color:#707070;white-space:pre;">45</div>
<div style="position:absolute;left:1317.74px;width:600px;text-align:center;top:964.55px;font:400 14px/14px 'Liberation Sans', sans-serif;color:#707070;white-space:pre;">50</div>
<div style="position:absolute;left:1472.04px;width:600px;text-align:center;top:964.55px;font:400 14px/14px 'Liberation Sans', sans-serif;color:#707070;white-space:pre;">55</div>
<div style="position:absolute;left:1626.35px;width:600px;text-align:center;top:964.55px;font:400 14px/14px 'Liberation Sans', sans-serif;color:#707070;white-space:pre;">60</div>
<div style="position:absolute;left:1703.50px;width:600px;text-align:center;top:964.55px;font:400 14px/14px 'Liberation Sans', sans-serif;color:#707070;white-space:pre;">62.5</div>
<div style="position:absolute;left:984.20px;top:990.45px;font:400 14px/14px 'Liberation Sans', sans-serif;color:#707070;white-space:pre;">Frequency (MHz)</div>
<div style="position:absolute;left:955.00px;top:1021.45px;font:400 14px/14px 'Liberation Sans', sans-serif;color:#707070;white-space:pre;">Channel 1</div>
<div style="position:absolute;left:1085.70px;top:1021.45px;font:400 14px/14px 'Liberation Sans', sans-serif;color:#707070;white-space:pre;">Channel 2</div>
</body></html>
